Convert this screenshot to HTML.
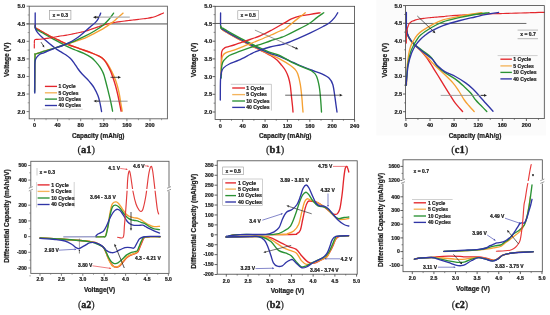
<!DOCTYPE html>
<html><head><meta charset="utf-8"><style>
html,body{margin:0;padding:0;background:#fff;}
body{width:550px;height:315px;overflow:hidden;font-family:"Liberation Sans",sans-serif;}
svg{display:block;will-change:transform;}
text{stroke-linejoin:round;}
</style></head><body>
<svg width="550" height="315" viewBox="0 0 550 315">
<rect width="550" height="315" fill="#fff"/>
<rect x="376.3" y="0" width="169.5" height="135.5" fill="#fbfbfb"/>
<line x1="26.5" y1="23.87" x2="167.4" y2="23.87" stroke="#9a9a9a" stroke-width="1.7"/>
<path d="M35.3 25 C35.37 25.48 35 27.03 35.7 27.9 C36.4 28.77 37.28 28.93 39.5 30.2 C41.72 31.47 45.82 33.83 49 35.5 C52.18 37.17 55.42 38.7 58.6 40.2 C61.78 41.7 64.53 43.07 68.1 44.5 C71.67 45.93 76.12 47.4 80 48.8 C83.88 50.2 88.07 51.58 91.4 52.9 C94.73 54.22 97.9 55.55 100 56.7 C102.1 57.85 102.67 58.48 104 59.8 C105.33 61.12 106.7 62.63 108 64.6 C109.3 66.57 110.58 69.12 111.8 71.6 C113.02 74.08 114.37 77.1 115.3 79.5 C116.23 81.9 116.75 83.67 117.4 86 C118.05 88.33 118.63 90.67 119.2 93.5 C119.77 96.33 120.3 100.05 120.8 103 C121.3 105.95 121.97 109.83 122.2 111.2" fill="none" stroke="#f5a133" stroke-width="1.35" stroke-linejoin="round" stroke-linecap="round" opacity="1"/>
<path d="M35.3 25 C35.37 25.48 35 27.03 35.7 27.9 C36.4 28.77 37.28 28.93 39.5 30.2 C41.72 31.47 45.82 33.83 49 35.5 C52.18 37.17 55.42 38.7 58.6 40.2 C61.78 41.7 64.53 43.07 68.1 44.5 C71.67 45.93 76.12 47.4 80 48.8 C83.88 50.2 88.07 51.58 91.4 52.9 C94.73 54.22 97.9 55.55 100 56.7 C102.1 57.85 102.82 58.53 104 59.8 C105.18 61.07 105.98 62.37 107.1 64.3 C108.22 66.23 109.62 68.87 110.7 71.4 C111.78 73.93 112.78 77.07 113.6 79.5 C114.42 81.93 114.95 83.67 115.6 86 C116.25 88.33 116.85 90.67 117.5 93.5 C118.15 96.33 118.9 100.05 119.5 103 C120.1 105.95 120.83 109.83 121.1 111.2" fill="none" stroke="#e3262c" stroke-width="1.35" stroke-linejoin="round" stroke-linecap="round" opacity="1"/>
<path d="M35.3 25.5 C35.37 26.05 34.2 27.38 35.7 28.8 C37.2 30.22 41.28 32.25 44.3 34 C47.32 35.75 49.83 37.15 53.8 39.3 C57.77 41.45 64.53 45.12 68.1 46.9 C71.67 48.68 72.58 48.93 75.2 50 C77.82 51.07 81.1 52.03 83.8 53.3 C86.5 54.57 89.33 56.08 91.4 57.6 C93.47 59.12 94.77 60.82 96.2 62.4 C97.63 63.98 98.95 65.58 100 67.1 C101.05 68.62 101.82 70.1 102.5 71.5 C103.18 72.9 103.43 73.33 104.1 75.5 C104.77 77.67 105.65 81.2 106.5 84.5 C107.35 87.8 108.45 92.22 109.2 95.3 C109.95 98.38 110.43 100.35 111 103 C111.57 105.65 112.33 109.83 112.6 111.2" fill="none" stroke="#2a9234" stroke-width="1.35" stroke-linejoin="round" stroke-linecap="round" opacity="1"/>
<path d="M35.2 13 C35.2 14.92 35.17 21.92 35.2 24.5 C35.23 27.08 35 27.15 35.4 28.5 C35.8 29.85 36.12 30.8 37.6 32.6 C39.08 34.4 41.43 36.75 44.3 39.3 C47.17 41.85 52.18 45.88 54.8 47.9 C57.42 49.92 58.18 50.25 60 51.4 C61.82 52.55 63.95 53.6 65.7 54.8 C67.45 56 69.07 57.18 70.5 58.6 C71.93 60.02 73.03 61.57 74.3 63.3 C75.57 65.03 76.83 67.25 78.1 69 C79.37 70.75 80.32 72.05 81.9 73.8 C83.48 75.55 86.08 77.88 87.6 79.5 C89.12 81.12 89.93 82.13 91 83.5 C92.07 84.87 92.87 85.73 94 87.7 C95.13 89.67 96.85 92.97 97.8 95.3 C98.75 97.63 99.07 99 99.7 101.7 C100.33 104.4 101.28 109.87 101.6 111.5" fill="none" stroke="#3035a6" stroke-width="1.35" stroke-linejoin="round" stroke-linecap="round" opacity="1"/>
<path d="M34.3 47.9 C34.32 46.75 34.32 42.35 34.4 41 C34.48 39.65 34.53 40.07 34.8 39.8 C35.07 39.53 35.22 39.48 36 39.4 C36.78 39.32 37.33 39.52 39.5 39.3 C41.67 39.08 45.82 38.58 49 38.1 C52.18 37.62 55.1 37 58.6 36.4 C62.1 35.8 65.6 35.37 70 34.5 C74.4 33.63 80.92 32.27 85 31.2 C89.08 30.13 91.33 29.15 94.5 28.1 C97.67 27.05 100.82 25.82 104 24.9 C107.18 23.98 110.1 23.25 113.6 22.6 C117.1 21.95 121.77 21.43 125 21 C128.23 20.57 129.67 20.4 133 20 C136.33 19.6 141.82 19.03 145 18.6 C148.18 18.17 149.97 17.92 152.1 17.4 C154.23 16.88 155.9 16.25 157.8 15.5 C159.7 14.75 162.55 13.33 163.5 12.9" fill="none" stroke="#e3262c" stroke-width="1.15" stroke-linejoin="round" stroke-linecap="round" stroke-dasharray="4 0.6" opacity="1"/>
<path d="M34.7 90 C34.73 87.5 34.83 80.7 34.9 75 C34.97 69.3 34.95 59.3 35.1 55.8 C35.25 52.3 34.27 54.77 35.8 54 C37.33 53.23 41.3 52.15 44.3 51.2 C47.3 50.25 49.83 49.53 53.8 48.3 C57.77 47.07 64.57 44.93 68.1 43.8 C71.63 42.67 72.18 42.45 75 41.5 C77.82 40.55 81.75 39.47 85 38.1 C88.25 36.73 91.33 34.97 94.5 33.3 C97.67 31.63 101.13 29.83 104 28.1 C106.87 26.37 109.47 24.57 111.7 22.9 C113.93 21.23 115.5 19.73 117.4 18.1 C119.3 16.47 122.15 13.93 123.1 13.1" fill="none" stroke="#f5a133" stroke-width="1.35" stroke-linejoin="round" stroke-linecap="round" opacity="1"/>
<path d="M34.6 92.1 C34.63 89.25 34.73 81.05 34.8 75 C34.87 68.95 34.85 59.3 35 55.8 C35.15 52.3 34.15 54.77 35.7 54 C37.25 53.23 41.28 52.15 44.3 51.2 C47.32 50.25 49.83 49.58 53.8 48.3 C57.77 47.02 64.57 44.75 68.1 43.5 C71.63 42.25 72.18 42.02 75 40.8 C77.82 39.58 81.75 37.83 85 36.2 C88.25 34.57 91.48 32.83 94.5 31 C97.52 29.17 100.72 27.12 103.1 25.2 C105.48 23.28 107.05 21.52 108.8 19.5 C110.55 17.48 112.8 14.17 113.6 13.1" fill="none" stroke="#2a9234" stroke-width="1.35" stroke-linejoin="round" stroke-linecap="round" opacity="1"/>
<path d="M34.8 93 C34.8 89.17 34.78 75 34.8 70 C34.82 65 34.78 64.75 34.9 63 C35.02 61.25 35.2 60.43 35.5 59.5 C35.8 58.57 36.03 58.23 36.7 57.4 C37.37 56.57 38.23 55.3 39.5 54.5 C40.77 53.7 41.92 53.58 44.3 52.6 C46.68 51.62 50.95 49.7 53.8 48.6 C56.65 47.5 58.93 46.95 61.4 46 C63.87 45.05 66.33 44.02 68.6 42.9 C70.87 41.78 73.1 40.5 75 39.3 C76.9 38.1 78.33 37 80 35.7 C81.67 34.4 83.57 32.75 85 31.5 C86.43 30.25 87.65 29.03 88.6 28.2 C89.55 27.37 89.55 27.47 90.7 26.5 C91.85 25.53 94.23 23.72 95.5 22.4 C96.77 21.08 97.43 20.15 98.3 18.6 C99.17 17.05 100.3 14.02 100.7 13.1" fill="none" stroke="#3035a6" stroke-width="1.35" stroke-linejoin="round" stroke-linecap="round" opacity="1"/>
<rect x="29.2" y="6.2" width="138.2" height="112.6" fill="none" stroke="#5e5e5e" stroke-width="0.9"/>
<line x1="26.6" y1="6.2" x2="29.2" y2="6.2" stroke="#666" stroke-width="0.85"/>
<text x="25.2" y="8.22" font-family="Liberation Sans" font-size="5.6" font-weight="bold" text-anchor="end" fill="#1c1c1c" stroke="#1c1c1c" stroke-width="0.22">5.0</text>
<line x1="26.6" y1="23.77" x2="29.2" y2="23.77" stroke="#666" stroke-width="0.85"/>
<text x="25.2" y="25.78" font-family="Liberation Sans" font-size="5.6" font-weight="bold" text-anchor="end" fill="#1c1c1c" stroke="#1c1c1c" stroke-width="0.22">4.5</text>
<line x1="26.6" y1="41.33" x2="29.2" y2="41.33" stroke="#666" stroke-width="0.85"/>
<text x="25.2" y="43.35" font-family="Liberation Sans" font-size="5.6" font-weight="bold" text-anchor="end" fill="#1c1c1c" stroke="#1c1c1c" stroke-width="0.22">4.0</text>
<line x1="26.6" y1="58.9" x2="29.2" y2="58.9" stroke="#666" stroke-width="0.85"/>
<text x="25.2" y="60.91" font-family="Liberation Sans" font-size="5.6" font-weight="bold" text-anchor="end" fill="#1c1c1c" stroke="#1c1c1c" stroke-width="0.22">3.5</text>
<line x1="26.6" y1="76.46" x2="29.2" y2="76.46" stroke="#666" stroke-width="0.85"/>
<text x="25.2" y="78.48" font-family="Liberation Sans" font-size="5.6" font-weight="bold" text-anchor="end" fill="#1c1c1c" stroke="#1c1c1c" stroke-width="0.22">3.0</text>
<line x1="26.6" y1="94.03" x2="29.2" y2="94.03" stroke="#666" stroke-width="0.85"/>
<text x="25.2" y="96.04" font-family="Liberation Sans" font-size="5.6" font-weight="bold" text-anchor="end" fill="#1c1c1c" stroke="#1c1c1c" stroke-width="0.22">2.5</text>
<line x1="26.6" y1="111.59" x2="29.2" y2="111.59" stroke="#666" stroke-width="0.85"/>
<text x="25.2" y="113.61" font-family="Liberation Sans" font-size="5.6" font-weight="bold" text-anchor="end" fill="#1c1c1c" stroke="#1c1c1c" stroke-width="0.22">2.0</text>
<line x1="27.7" y1="14.98" x2="29.2" y2="14.98" stroke="#666" stroke-width="0.6"/>
<line x1="27.7" y1="32.55" x2="29.2" y2="32.55" stroke="#666" stroke-width="0.6"/>
<line x1="27.7" y1="50.11" x2="29.2" y2="50.11" stroke="#666" stroke-width="0.6"/>
<line x1="27.7" y1="67.68" x2="29.2" y2="67.68" stroke="#666" stroke-width="0.6"/>
<line x1="27.7" y1="85.24" x2="29.2" y2="85.24" stroke="#666" stroke-width="0.6"/>
<line x1="27.7" y1="102.81" x2="29.2" y2="102.81" stroke="#666" stroke-width="0.6"/>
<line x1="34.5" y1="118.8" x2="34.5" y2="121.2" stroke="#666" stroke-width="0.85"/>
<text x="34.5" y="127" font-family="Liberation Sans" font-size="5.6" font-weight="bold" text-anchor="middle" fill="#1c1c1c" stroke="#1c1c1c" stroke-width="0.22">0</text>
<line x1="57.6" y1="118.8" x2="57.6" y2="121.2" stroke="#666" stroke-width="0.85"/>
<text x="57.6" y="127" font-family="Liberation Sans" font-size="5.6" font-weight="bold" text-anchor="middle" fill="#1c1c1c" stroke="#1c1c1c" stroke-width="0.22">40</text>
<line x1="80.7" y1="118.8" x2="80.7" y2="121.2" stroke="#666" stroke-width="0.85"/>
<text x="80.7" y="127" font-family="Liberation Sans" font-size="5.6" font-weight="bold" text-anchor="middle" fill="#1c1c1c" stroke="#1c1c1c" stroke-width="0.22">80</text>
<line x1="103.8" y1="118.8" x2="103.8" y2="121.2" stroke="#666" stroke-width="0.85"/>
<text x="103.8" y="127" font-family="Liberation Sans" font-size="5.6" font-weight="bold" text-anchor="middle" fill="#1c1c1c" stroke="#1c1c1c" stroke-width="0.22">120</text>
<line x1="126.9" y1="118.8" x2="126.9" y2="121.2" stroke="#666" stroke-width="0.85"/>
<text x="126.9" y="127" font-family="Liberation Sans" font-size="5.6" font-weight="bold" text-anchor="middle" fill="#1c1c1c" stroke="#1c1c1c" stroke-width="0.22">160</text>
<line x1="150" y1="118.8" x2="150" y2="121.2" stroke="#666" stroke-width="0.85"/>
<text x="150" y="127" font-family="Liberation Sans" font-size="5.6" font-weight="bold" text-anchor="middle" fill="#1c1c1c" stroke="#1c1c1c" stroke-width="0.22">200</text>
<line x1="46.05" y1="118.8" x2="46.05" y2="120.2" stroke="#666" stroke-width="0.6"/>
<line x1="69.15" y1="118.8" x2="69.15" y2="120.2" stroke="#666" stroke-width="0.6"/>
<line x1="92.25" y1="118.8" x2="92.25" y2="120.2" stroke="#666" stroke-width="0.6"/>
<line x1="115.35" y1="118.8" x2="115.35" y2="120.2" stroke="#666" stroke-width="0.6"/>
<line x1="138.45" y1="118.8" x2="138.45" y2="120.2" stroke="#666" stroke-width="0.6"/>
<line x1="161.55" y1="118.8" x2="161.55" y2="120.2" stroke="#666" stroke-width="0.6"/>
<text x="0" y="0" transform="translate(6.7 59.7) rotate(-90)" font-family="Liberation Sans" font-size="6.7" font-weight="bold" text-anchor="middle" dominant-baseline="central" fill="#1c1c1c" stroke="#1c1c1c" stroke-width="0.22">Voltage (V)</text>
<text x="98.2" y="137.9" font-family="Liberation Sans" font-size="6.4" font-weight="bold" text-anchor="middle" fill="#1c1c1c" stroke="#1c1c1c" stroke-width="0.22">Capacity (mAh/g)</text>
<text x="86.3" y="152.8" font-family="Liberation Serif" font-size="10.5" text-anchor="middle" fill="#1e1e1e"><tspan font-weight="normal" stroke="#1e1e1e" stroke-width="0.2">(</tspan><tspan font-weight="bold" stroke="#1e1e1e" stroke-width="0.42">a1</tspan><tspan font-weight="normal" stroke="#1e1e1e" stroke-width="0.2">)</tspan></text>
<rect x="49.5" y="10.6" width="21.4" height="8.8" fill="#fff" stroke="#a0a0a0" stroke-width="0.7"/>
<text x="60.3" y="17.1" font-family="Liberation Sans" font-size="5.0" font-weight="bold" text-anchor="middle" fill="#1c1c1c" stroke="#1c1c1c" stroke-width="0.22">x = 0.3</text>
<line x1="44.9" y1="86.4" x2="57" y2="86.4" stroke="#e3262c" stroke-width="1.35"/>
<text x="58.5" y="88.16" font-family="Liberation Sans" font-size="4.9" font-weight="bold" text-anchor="start" fill="#1c1c1c" stroke="#1c1c1c" stroke-width="0.22">1 Cycle</text>
<line x1="44.9" y1="92.8" x2="57" y2="92.8" stroke="#f4b45c" stroke-width="1.35"/>
<text x="58.5" y="94.56" font-family="Liberation Sans" font-size="4.9" font-weight="bold" text-anchor="start" fill="#1c1c1c" stroke="#1c1c1c" stroke-width="0.22">5 Cycles</text>
<line x1="44.9" y1="99.1" x2="57" y2="99.1" stroke="#2a9234" stroke-width="1.35"/>
<text x="58.5" y="100.86" font-family="Liberation Sans" font-size="4.9" font-weight="bold" text-anchor="start" fill="#1c1c1c" stroke="#1c1c1c" stroke-width="0.22">10 Cycles</text>
<line x1="44.9" y1="105.5" x2="57" y2="105.5" stroke="#3035a6" stroke-width="1.35"/>
<text x="58.5" y="107.26" font-family="Liberation Sans" font-size="4.9" font-weight="bold" text-anchor="start" fill="#1c1c1c" stroke="#1c1c1c" stroke-width="0.22">40 Cycles</text>
<line x1="42.4" y1="109.2" x2="82.7" y2="109.2" stroke="#bdbdbd" stroke-width="0.6"/>
<line x1="96" y1="17.2" x2="129.8" y2="17.2" stroke="#b0b0b0" stroke-width="1.3"/>
<line x1="99" y1="17.2" x2="96.2" y2="17.2" stroke="#222" stroke-width="1.0"/>
<polygon points="93,17.2 96.2,15.76 96.2,18.64" fill="#222"/>
<line x1="41" y1="42.1" x2="43.03" y2="45.36" stroke="#222" stroke-width="0.7"/>
<polygon points="44.3,47.4 42.11,45.93 43.95,44.79" fill="#222"/>
<line x1="110.5" y1="77.3" x2="118" y2="77.3" stroke="#222" stroke-width="0.8"/>
<polygon points="121,77.3 118,78.65 118,75.95" fill="#222"/>
<line x1="97" y1="101.2" x2="127.6" y2="101.2" stroke="#6a6a6a" stroke-width="0.7"/>
<line x1="99.5" y1="101.1" x2="96.5" y2="101.1" stroke="#222" stroke-width="0.8"/>
<polygon points="93.5,101.1 96.5,99.75 96.5,102.45" fill="#222"/>
<line x1="215.1" y1="23.45" x2="354.6" y2="23.45" stroke="#2e2e2e" stroke-width="0.8"/>
<path d="M220.6 26 C220.75 26.47 221.02 28.07 221.5 28.8 C221.98 29.53 221.75 29.3 223.5 30.4 C225.25 31.5 228.98 33.68 232 35.4 C235.02 37.12 238.43 39 241.6 40.7 C244.77 42.4 247.83 44 251 45.6 C254.17 47.2 257.33 48.65 260.6 50.3 C263.87 51.95 267.87 53.88 270.6 55.5 C273.33 57.12 275.27 58.5 277 60 C278.73 61.5 279.58 62.75 281 64.5 C282.42 66.25 284.25 68.33 285.5 70.5 C286.75 72.67 287.7 75 288.5 77.5 C289.3 80 289.8 82.27 290.3 85.5 C290.8 88.73 291.13 93.48 291.5 96.9 C291.87 100.32 292.25 103.48 292.5 106 C292.75 108.52 292.92 111 293 112" fill="none" stroke="#e3262c" stroke-width="1.35" stroke-linejoin="round" stroke-linecap="round" opacity="1"/>
<path d="M220.6 26 C220.75 26.47 221.02 28.07 221.5 28.8 C221.98 29.53 221.75 29.3 223.5 30.4 C225.25 31.5 228.98 33.68 232 35.4 C235.02 37.12 238.43 39 241.6 40.7 C244.77 42.4 247.83 44.03 251 45.6 C254.17 47.17 257.43 48.62 260.6 50.1 C263.77 51.58 266.77 52.98 270 54.5 C273.23 56.02 276.58 57.37 280 59.2 C283.42 61.03 288 63.82 290.5 65.5 C293 67.18 293.78 67.88 295 69.3 C296.22 70.72 296.92 71.5 297.8 74 C298.68 76.5 299.63 80.48 300.3 84.3 C300.97 88.12 301.43 93.28 301.8 96.9 C302.17 100.52 302.3 103.48 302.5 106 C302.7 108.52 302.92 111 303 112" fill="none" stroke="#f5a133" stroke-width="1.35" stroke-linejoin="round" stroke-linecap="round" opacity="1"/>
<path d="M220.6 13 C220.6 15.17 220.45 23.42 220.6 26 C220.75 28.58 221.02 27.87 221.5 28.5 C221.98 29.13 221.75 28.75 223.5 29.8 C225.25 30.85 228.98 33.1 232 34.8 C235.02 36.5 238.43 38.32 241.6 40 C244.77 41.68 247.83 43.33 251 44.9 C254.17 46.47 257.43 47.98 260.6 49.4 C263.77 50.82 266.77 52.2 270 53.4 C273.23 54.6 276.67 55.33 280 56.6 C283.33 57.87 286.67 59.52 290 61 C293.33 62.48 296.43 64 300 65.5 C303.57 67 307.75 68.6 311.4 70 C315.05 71.4 318.93 72.53 321.9 73.9 C324.87 75.27 327.38 76.43 329.2 78.2 C331.02 79.97 331.85 81.38 332.8 84.5 C333.75 87.62 334.37 93.48 334.9 96.9 C335.43 100.32 335.65 102.48 336 105 C336.35 107.52 336.83 110.83 337 112" fill="none" stroke="#3035a6" stroke-width="1.35" stroke-linejoin="round" stroke-linecap="round" opacity="1"/>
<path d="M220.6 26 C220.75 26.42 221.17 28.13 221.5 28.5 C221.83 28.87 220.85 27.35 222.6 28.2 C224.35 29.05 228.83 31.83 232 33.6 C235.17 35.37 238.43 37.12 241.6 38.8 C244.77 40.48 247.83 42.13 251 43.7 C254.17 45.27 257.43 46.77 260.6 48.2 C263.77 49.63 266.77 51.07 270 52.3 C273.23 53.53 276.67 54.1 280 55.6 C283.33 57.1 286.5 59.5 290 61.3 C293.5 63.1 297.43 64.82 301 66.4 C304.57 67.98 308.83 69.2 311.4 70.8 C313.97 72.4 315.1 73.4 316.4 76 C317.7 78.6 318.5 82.57 319.2 86.4 C319.9 90.23 320.22 94.73 320.6 99 C320.98 103.27 321.35 109.83 321.5 112" fill="none" stroke="#2a9234" stroke-width="1.35" stroke-linejoin="round" stroke-linecap="round" opacity="1"/>
<path d="M221.4 75 C221.4 72.17 221.37 61.75 221.4 58 C221.43 54.25 221.42 53.83 221.6 52.5 C221.78 51.17 222.17 50.62 222.5 50 C222.83 49.38 222.97 49.27 223.6 48.8 C224.23 48.33 224.57 47.83 226.3 47.2 C228.03 46.57 231.45 45.82 234 45 C236.55 44.18 238.93 43.22 241.6 42.3 C244.27 41.38 246.83 40.62 250 39.5 C253.17 38.38 256.95 37.18 260.6 35.6 C264.25 34.02 268.83 31.6 271.9 30 C274.97 28.4 276.82 27.22 279 26 C281.18 24.78 282.93 23.88 285 22.7 C287.07 21.52 288.65 20.07 291.4 18.9 C294.15 17.73 298.33 16.45 301.5 15.7 C304.67 14.95 307.32 14.88 310.4 14.4 C313.48 13.92 318.4 13.07 320 12.8" fill="none" stroke="#e3262c" stroke-width="1.35" stroke-linejoin="round" stroke-linecap="round" opacity="1"/>
<path d="M221.2 75 C221.23 73.17 221.27 66.83 221.4 64 C221.53 61.17 221.73 59.45 222 58 C222.27 56.55 222.58 56.03 223 55.3 C223.42 54.57 223.67 54.18 224.5 53.6 C225.33 53.02 226.42 52.37 228 51.8 C229.58 51.23 230.93 51.3 234 50.2 C237.07 49.1 243.73 46.27 246.4 45.2 C249.07 44.13 247.63 44.75 250 43.8 C252.37 42.85 257.1 40.97 260.6 39.5 C264.1 38.03 267.77 36.42 271 35 C274.23 33.58 277.67 32 280 31 C282.33 30 282.9 30.38 285 29 C287.1 27.62 290.27 24.6 292.6 22.7 C294.93 20.8 296.88 19.25 299 17.6 C301.12 15.95 304.25 13.6 305.3 12.8" fill="none" stroke="#f5a133" stroke-width="1.35" stroke-linejoin="round" stroke-linecap="round" opacity="1"/>
<path d="M221.2 78 C221.25 76.33 221.28 70.5 221.5 68 C221.72 65.5 222.08 64.3 222.5 63 C222.92 61.7 222.87 61.45 224 60.2 C225.13 58.95 226.83 56.92 229.3 55.5 C231.77 54.08 235.35 53.02 238.8 51.7 C242.25 50.38 246.37 48.83 250 47.6 C253.63 46.37 257.27 45.4 260.6 44.3 C263.93 43.2 266.77 42.08 270 41 C273.23 39.92 277.5 38.63 280 37.8 C282.5 36.97 282.05 37.35 285 36 C287.95 34.65 293.47 31.92 297.7 29.7 C301.93 27.48 307.22 24.72 310.4 22.7 C313.58 20.68 314.57 19.25 316.8 17.6 C319.03 15.95 322.63 13.6 323.8 12.8" fill="none" stroke="#2a9234" stroke-width="1.35" stroke-linejoin="round" stroke-linecap="round" opacity="1"/>
<path d="M220.3 100 C220.33 96.67 220.3 84.67 220.5 80 C220.7 75.33 220.98 74.02 221.5 72 C222.02 69.98 222.3 69.23 223.6 67.9 C224.9 66.57 226.77 65.28 229.3 64 C231.83 62.72 235.35 61.78 238.8 60.2 C242.25 58.62 247.3 55.87 250 54.5 C252.7 53.13 253.23 52.78 255 52 C256.77 51.22 258.1 50.63 260.6 49.8 C263.1 48.97 266.77 47.8 270 47 C273.23 46.2 277.5 45.55 280 45 C282.5 44.45 282.05 44.77 285 43.7 C287.95 42.63 293.47 40.4 297.7 38.6 C301.93 36.8 306.17 34.92 310.4 32.9 C314.63 30.88 319.92 28.2 323.1 26.5 C326.28 24.8 327.58 24.18 329.5 22.7 C331.42 21.22 333.23 19.25 334.6 17.6 C335.97 15.95 337.18 13.6 337.7 12.8" fill="none" stroke="#3035a6" stroke-width="1.35" stroke-linejoin="round" stroke-linecap="round" opacity="1"/>
<rect x="215.1" y="6.3" width="139.5" height="113.1" fill="none" stroke="#444" stroke-width="0.8"/>
<line x1="212.5" y1="6.3" x2="215.1" y2="6.3" stroke="#444" stroke-width="0.85"/>
<text x="212" y="8.32" font-family="Liberation Sans" font-size="5.6" font-weight="bold" text-anchor="end" fill="#1c1c1c" stroke="#1c1c1c" stroke-width="0.22">5.0</text>
<line x1="212.5" y1="23.5" x2="215.1" y2="23.5" stroke="#444" stroke-width="0.85"/>
<text x="212" y="25.52" font-family="Liberation Sans" font-size="5.6" font-weight="bold" text-anchor="end" fill="#1c1c1c" stroke="#1c1c1c" stroke-width="0.22">4.5</text>
<line x1="212.5" y1="41.2" x2="215.1" y2="41.2" stroke="#444" stroke-width="0.85"/>
<text x="212" y="43.22" font-family="Liberation Sans" font-size="5.6" font-weight="bold" text-anchor="end" fill="#1c1c1c" stroke="#1c1c1c" stroke-width="0.22">4.0</text>
<line x1="212.5" y1="58.9" x2="215.1" y2="58.9" stroke="#444" stroke-width="0.85"/>
<text x="212" y="60.92" font-family="Liberation Sans" font-size="5.6" font-weight="bold" text-anchor="end" fill="#1c1c1c" stroke="#1c1c1c" stroke-width="0.22">3.5</text>
<line x1="212.5" y1="76.6" x2="215.1" y2="76.6" stroke="#444" stroke-width="0.85"/>
<text x="212" y="78.62" font-family="Liberation Sans" font-size="5.6" font-weight="bold" text-anchor="end" fill="#1c1c1c" stroke="#1c1c1c" stroke-width="0.22">3.0</text>
<line x1="212.5" y1="94.3" x2="215.1" y2="94.3" stroke="#444" stroke-width="0.85"/>
<text x="212" y="96.32" font-family="Liberation Sans" font-size="5.6" font-weight="bold" text-anchor="end" fill="#1c1c1c" stroke="#1c1c1c" stroke-width="0.22">2.5</text>
<line x1="212.5" y1="112" x2="215.1" y2="112" stroke="#444" stroke-width="0.85"/>
<text x="212" y="114.02" font-family="Liberation Sans" font-size="5.6" font-weight="bold" text-anchor="end" fill="#1c1c1c" stroke="#1c1c1c" stroke-width="0.22">2.0</text>
<line x1="213.6" y1="14.65" x2="215.1" y2="14.65" stroke="#444" stroke-width="0.6"/>
<line x1="213.6" y1="32.35" x2="215.1" y2="32.35" stroke="#444" stroke-width="0.6"/>
<line x1="213.6" y1="50.05" x2="215.1" y2="50.05" stroke="#444" stroke-width="0.6"/>
<line x1="213.6" y1="67.75" x2="215.1" y2="67.75" stroke="#444" stroke-width="0.6"/>
<line x1="213.6" y1="85.45" x2="215.1" y2="85.45" stroke="#444" stroke-width="0.6"/>
<line x1="213.6" y1="103.15" x2="215.1" y2="103.15" stroke="#444" stroke-width="0.6"/>
<line x1="220.3" y1="119.4" x2="220.3" y2="121.8" stroke="#444" stroke-width="0.85"/>
<text x="220.3" y="127.5" font-family="Liberation Sans" font-size="5.6" font-weight="bold" text-anchor="middle" fill="#1c1c1c" stroke="#1c1c1c" stroke-width="0.22">0</text>
<line x1="242.68" y1="119.4" x2="242.68" y2="121.8" stroke="#444" stroke-width="0.85"/>
<text x="242.68" y="127.5" font-family="Liberation Sans" font-size="5.6" font-weight="bold" text-anchor="middle" fill="#1c1c1c" stroke="#1c1c1c" stroke-width="0.22">40</text>
<line x1="265.07" y1="119.4" x2="265.07" y2="121.8" stroke="#444" stroke-width="0.85"/>
<text x="265.07" y="127.5" font-family="Liberation Sans" font-size="5.6" font-weight="bold" text-anchor="middle" fill="#1c1c1c" stroke="#1c1c1c" stroke-width="0.22">80</text>
<line x1="287.45" y1="119.4" x2="287.45" y2="121.8" stroke="#444" stroke-width="0.85"/>
<text x="287.45" y="127.5" font-family="Liberation Sans" font-size="5.6" font-weight="bold" text-anchor="middle" fill="#1c1c1c" stroke="#1c1c1c" stroke-width="0.22">120</text>
<line x1="309.84" y1="119.4" x2="309.84" y2="121.8" stroke="#444" stroke-width="0.85"/>
<text x="309.84" y="127.5" font-family="Liberation Sans" font-size="5.6" font-weight="bold" text-anchor="middle" fill="#1c1c1c" stroke="#1c1c1c" stroke-width="0.22">160</text>
<line x1="332.22" y1="119.4" x2="332.22" y2="121.8" stroke="#444" stroke-width="0.85"/>
<text x="332.22" y="127.5" font-family="Liberation Sans" font-size="5.6" font-weight="bold" text-anchor="middle" fill="#1c1c1c" stroke="#1c1c1c" stroke-width="0.22">200</text>
<line x1="354.6" y1="119.4" x2="354.6" y2="121.8" stroke="#444" stroke-width="0.85"/>
<text x="354.6" y="127.5" font-family="Liberation Sans" font-size="5.6" font-weight="bold" text-anchor="middle" fill="#1c1c1c" stroke="#1c1c1c" stroke-width="0.22">240</text>
<line x1="231.49" y1="119.4" x2="231.49" y2="120.8" stroke="#444" stroke-width="0.6"/>
<line x1="253.88" y1="119.4" x2="253.88" y2="120.8" stroke="#444" stroke-width="0.6"/>
<line x1="276.26" y1="119.4" x2="276.26" y2="120.8" stroke="#444" stroke-width="0.6"/>
<line x1="298.64" y1="119.4" x2="298.64" y2="120.8" stroke="#444" stroke-width="0.6"/>
<line x1="321.03" y1="119.4" x2="321.03" y2="120.8" stroke="#444" stroke-width="0.6"/>
<line x1="343.41" y1="119.4" x2="343.41" y2="120.8" stroke="#444" stroke-width="0.6"/>
<text x="0" y="0" transform="translate(193.7 60) rotate(-90)" font-family="Liberation Sans" font-size="6.7" font-weight="bold" text-anchor="middle" dominant-baseline="central" fill="#1c1c1c" stroke="#1c1c1c" stroke-width="0.22">Voltage (V)</text>
<text x="285.2" y="138.3" font-family="Liberation Sans" font-size="6.4" font-weight="bold" text-anchor="middle" fill="#1c1c1c" stroke="#1c1c1c" stroke-width="0.22">Capacity (mAh/g)</text>
<text x="275.1" y="152.7" font-family="Liberation Serif" font-size="10.5" text-anchor="middle" fill="#1e1e1e"><tspan font-weight="normal" stroke="#1e1e1e" stroke-width="0.2">(</tspan><tspan font-weight="bold" stroke="#1e1e1e" stroke-width="0.42">b1</tspan><tspan font-weight="normal" stroke="#1e1e1e" stroke-width="0.2">)</tspan></text>
<rect x="237.8" y="10.7" width="20.9" height="8.6" fill="#fff" stroke="#9a9a9a" stroke-width="0.6"/>
<text x="248.2" y="17.1" font-family="Liberation Sans" font-size="5.0" font-weight="bold" text-anchor="middle" fill="#1c1c1c" stroke="#1c1c1c" stroke-width="0.22">x = 0.5</text>
<line x1="230.8" y1="84.3" x2="271.4" y2="84.3" stroke="#a8a8a8" stroke-width="0.6"/>
<line x1="271.4" y1="84.3" x2="271.4" y2="110.6" stroke="#a8a8a8" stroke-width="0.6"/>
<line x1="232.2" y1="88" x2="245" y2="88" stroke="#e3262c" stroke-width="1.35"/>
<text x="246.2" y="89.84" font-family="Liberation Sans" font-size="5.1" font-weight="bold" text-anchor="start" fill="#1c1c1c" stroke="#1c1c1c" stroke-width="0.22">1 Cycle</text>
<line x1="232.2" y1="94.6" x2="245" y2="94.6" stroke="#f4b45c" stroke-width="1.35"/>
<text x="246.2" y="96.44" font-family="Liberation Sans" font-size="5.1" font-weight="bold" text-anchor="start" fill="#1c1c1c" stroke="#1c1c1c" stroke-width="0.22">5 Cycles</text>
<line x1="232.2" y1="101" x2="245" y2="101" stroke="#2a9234" stroke-width="1.35"/>
<text x="246.2" y="102.84" font-family="Liberation Sans" font-size="5.1" font-weight="bold" text-anchor="start" fill="#1c1c1c" stroke="#1c1c1c" stroke-width="0.22">10 Cycles</text>
<line x1="232.2" y1="107.4" x2="245" y2="107.4" stroke="#3035a6" stroke-width="1.35"/>
<text x="246.2" y="109.24" font-family="Liberation Sans" font-size="5.1" font-weight="bold" text-anchor="start" fill="#1c1c1c" stroke="#1c1c1c" stroke-width="0.22">40 Cycles</text>
<line x1="254.9" y1="30.1" x2="296" y2="48.3" stroke="#6a6a6a" stroke-width="0.7"/>
<line x1="292" y1="46.5" x2="295.74" y2="48.16" stroke="#222" stroke-width="0.7"/>
<polygon points="298.3,49.3 295.23,49.31 296.25,47.01" fill="#222"/>
<line x1="285.2" y1="95.2" x2="339.6" y2="95.2" stroke="#222" stroke-width="0.7"/>
<polygon points="342.6,95.2 339.6,96.55 339.6,93.85" fill="#222"/>
<line x1="405.6" y1="23.45" x2="526.4" y2="23.45" stroke="#3a3a3a" stroke-width="0.75"/>
<path d="M406.6 30 C406.83 31 407.33 34.25 408 36 C408.67 37.75 409.53 39.05 410.6 40.5 C411.67 41.95 413.28 43.55 414.4 44.7 C415.52 45.85 416.03 46.17 417.3 47.4 C418.57 48.63 420.42 50.35 422 52.1 C423.58 53.85 425.37 55.98 426.8 57.9 C428.23 59.82 429.33 61.62 430.6 63.6 C431.87 65.58 432.8 67.22 434.4 69.8 C436 72.38 438.27 75.97 440.2 79.1 C442.13 82.23 443.88 85.18 446 88.6 C448.12 92.02 451.35 97.18 452.9 99.6 C454.45 102.02 453.68 101.12 455.3 103.1 C456.92 105.08 461.38 110.1 462.6 111.5" fill="none" stroke="#e3262c" stroke-width="1.35" stroke-linejoin="round" stroke-linecap="round" opacity="1"/>
<path d="M406.6 30 C406.83 31 407.33 34.25 408 36 C408.67 37.75 409.53 39.05 410.6 40.5 C411.67 41.95 412.5 42.83 414.4 44.7 C416.3 46.57 419.62 49.35 422 51.7 C424.38 54.05 426.63 56.58 428.7 58.8 C430.77 61.02 432.07 62.68 434.4 65 C436.73 67.32 439.62 69.72 442.7 72.7 C445.78 75.68 450.27 79.93 452.9 82.9 C455.53 85.87 456.6 87.65 458.5 90.5 C460.4 93.35 462.55 97.45 464.3 100 C466.05 102.55 467.35 103.88 469 105.8 C470.65 107.72 473.33 110.55 474.2 111.5" fill="none" stroke="#f5a133" stroke-width="1.35" stroke-linejoin="round" stroke-linecap="round" opacity="1"/>
<path d="M406.6 30 C406.83 30.9 407.33 33.73 408 35.4 C408.67 37.07 409.53 38.48 410.6 40 C411.67 41.52 412.5 42.8 414.4 44.5 C416.3 46.2 419.13 47.97 422 50.2 C424.87 52.43 429 55.17 431.6 57.9 C434.2 60.63 435.33 64.13 437.6 66.6 C439.87 69.07 442.23 70.62 445.2 72.7 C448.17 74.78 452.22 76.77 455.4 79.1 C458.58 81.43 461.75 84.38 464.3 86.7 C466.85 89.02 468.8 90.78 470.7 93 C472.6 95.22 473.98 97.92 475.7 100 C477.42 102.08 479.15 103.58 481 105.5 C482.85 107.42 485.83 110.5 486.8 111.5" fill="none" stroke="#2a9234" stroke-width="1.35" stroke-linejoin="round" stroke-linecap="round" opacity="1"/>
<path d="M406.4 12.4 C406.4 14.5 406.33 22.07 406.4 25 C406.47 27.93 406.57 28.33 406.8 30 C407.03 31.67 407.17 33.37 407.8 35 C408.43 36.63 409.5 38.22 410.6 39.8 C411.7 41.38 412.5 42.6 414.4 44.5 C416.3 46.4 419.13 48.85 422 51.2 C424.87 53.55 429 56.17 431.6 58.6 C434.2 61.03 435.33 63.6 437.6 65.8 C439.87 68 442.23 70.02 445.2 71.8 C448.17 73.58 452 74.65 455.4 76.5 C458.8 78.35 462.63 80.78 465.6 82.9 C468.57 85.02 470.87 86.98 473.2 89.2 C475.53 91.42 477.47 93.82 479.6 96.2 C481.73 98.58 483.77 100.98 486 103.5 C488.23 106.02 491.83 110 493 111.3" fill="none" stroke="#3035a6" stroke-width="1.35" stroke-linejoin="round" stroke-linecap="round" opacity="1"/>
<path d="M406.3 43.1 C406.32 41.75 406.32 37.02 406.4 35 C406.48 32.98 406.6 32.23 406.8 31 C407 29.77 407.23 28.77 407.6 27.6 C407.97 26.43 408.5 24.9 409 24 C409.5 23.1 409.97 22.7 410.6 22.2 C411.23 21.7 411.73 21.45 412.8 21 C413.87 20.55 415.47 19.9 417 19.5 C418.53 19.1 419.57 18.93 422 18.6 C424.43 18.27 428.1 17.83 431.6 17.5 C435.1 17.17 439.83 16.88 443 16.6 C446.17 16.32 445.27 16.18 450.6 15.8 C455.93 15.42 466.68 14.67 475 14.3 C483.32 13.93 493 13.82 500.5 13.6 C508 13.38 512.7 13.22 520 13 C527.3 12.78 540.25 12.42 544.3 12.3" fill="none" stroke="#e3262c" stroke-width="1.15" stroke-linejoin="round" stroke-linecap="round" stroke-dasharray="4 0.6" opacity="1"/>
<path d="M406.5 85 C406.58 82.83 406.87 75.33 407 72 C407.13 68.67 407.02 68 407.3 65 C407.58 62 408.15 57.1 408.7 54 C409.25 50.9 409.8 48.62 410.6 46.4 C411.4 44.18 412.38 42.6 413.5 40.7 C414.62 38.8 415.88 36.63 417.3 35 C418.72 33.37 419.62 32.55 422 30.9 C424.38 29.25 428.1 26.93 431.6 25.1 C435.1 23.27 438.25 21.38 443 19.9 C447.75 18.42 454.77 17.25 460.1 16.2 C465.43 15.15 471.35 14.2 475 13.6 C478.65 13 480.83 12.77 482 12.6" fill="none" stroke="#f5a133" stroke-width="1.35" stroke-linejoin="round" stroke-linecap="round" opacity="1"/>
<path d="M406.1 85.3 C406.23 83.58 406.62 78.38 406.9 75 C407.18 71.62 407.18 68.82 407.8 65 C408.42 61.18 409.65 55.35 410.6 52.1 C411.55 48.85 412.55 47.4 413.5 45.5 C414.45 43.6 415.12 42.45 416.3 40.7 C417.48 38.95 418.05 37.2 420.6 35 C423.15 32.8 427.87 29.7 431.6 27.5 C435.33 25.3 438.25 23.48 443 21.8 C447.75 20.12 454.77 18.62 460.1 17.4 C465.43 16.18 470.18 15.3 475 14.5 C479.82 13.7 486.67 12.92 489 12.6" fill="none" stroke="#2a9234" stroke-width="1.35" stroke-linejoin="round" stroke-linecap="round" opacity="1"/>
<path d="M406.1 85.3 C406.25 83.58 406.65 78.38 407 75 C407.35 71.62 407.43 68.65 408.2 65 C408.97 61.35 410.4 56.35 411.6 53.1 C412.8 49.85 413.98 47.72 415.4 45.5 C416.82 43.28 418.43 41.55 420.1 39.8 C421.77 38.05 423.48 36.48 425.4 35 C427.32 33.52 428.67 32.47 431.6 30.9 C434.53 29.33 438.25 27.33 443 25.6 C447.75 23.87 454.77 21.93 460.1 20.5 C465.43 19.07 470.82 17.98 475 17 C479.18 16.02 481.27 15.37 485.2 14.6 C489.13 13.83 496.37 12.77 498.6 12.4" fill="none" stroke="#3035a6" stroke-width="1.35" stroke-linejoin="round" stroke-linecap="round" opacity="1"/>
<rect x="405.6" y="5.6" width="138.7" height="113" fill="none" stroke="#444" stroke-width="0.8"/>
<line x1="403" y1="5.6" x2="405.6" y2="5.6" stroke="#444" stroke-width="0.85"/>
<text x="402.2" y="7.62" font-family="Liberation Sans" font-size="5.6" font-weight="bold" text-anchor="end" fill="#1c1c1c" stroke="#1c1c1c" stroke-width="0.22">5.0</text>
<line x1="403" y1="23.28" x2="405.6" y2="23.28" stroke="#444" stroke-width="0.85"/>
<text x="402.2" y="25.3" font-family="Liberation Sans" font-size="5.6" font-weight="bold" text-anchor="end" fill="#1c1c1c" stroke="#1c1c1c" stroke-width="0.22">4.5</text>
<line x1="403" y1="40.97" x2="405.6" y2="40.97" stroke="#444" stroke-width="0.85"/>
<text x="402.2" y="42.99" font-family="Liberation Sans" font-size="5.6" font-weight="bold" text-anchor="end" fill="#1c1c1c" stroke="#1c1c1c" stroke-width="0.22">4.0</text>
<line x1="403" y1="58.65" x2="405.6" y2="58.65" stroke="#444" stroke-width="0.85"/>
<text x="402.2" y="60.67" font-family="Liberation Sans" font-size="5.6" font-weight="bold" text-anchor="end" fill="#1c1c1c" stroke="#1c1c1c" stroke-width="0.22">3.5</text>
<line x1="403" y1="76.34" x2="405.6" y2="76.34" stroke="#444" stroke-width="0.85"/>
<text x="402.2" y="78.36" font-family="Liberation Sans" font-size="5.6" font-weight="bold" text-anchor="end" fill="#1c1c1c" stroke="#1c1c1c" stroke-width="0.22">3.0</text>
<line x1="403" y1="94.02" x2="405.6" y2="94.02" stroke="#444" stroke-width="0.85"/>
<text x="402.2" y="96.04" font-family="Liberation Sans" font-size="5.6" font-weight="bold" text-anchor="end" fill="#1c1c1c" stroke="#1c1c1c" stroke-width="0.22">2.5</text>
<line x1="403" y1="111.71" x2="405.6" y2="111.71" stroke="#444" stroke-width="0.85"/>
<text x="402.2" y="113.73" font-family="Liberation Sans" font-size="5.6" font-weight="bold" text-anchor="end" fill="#1c1c1c" stroke="#1c1c1c" stroke-width="0.22">2.0</text>
<line x1="404.1" y1="14.44" x2="405.6" y2="14.44" stroke="#444" stroke-width="0.6"/>
<line x1="404.1" y1="32.13" x2="405.6" y2="32.13" stroke="#444" stroke-width="0.6"/>
<line x1="404.1" y1="49.81" x2="405.6" y2="49.81" stroke="#444" stroke-width="0.6"/>
<line x1="404.1" y1="67.5" x2="405.6" y2="67.5" stroke="#444" stroke-width="0.6"/>
<line x1="404.1" y1="85.18" x2="405.6" y2="85.18" stroke="#444" stroke-width="0.6"/>
<line x1="404.1" y1="102.87" x2="405.6" y2="102.87" stroke="#444" stroke-width="0.6"/>
<line x1="405.9" y1="118.6" x2="405.9" y2="121" stroke="#444" stroke-width="0.85"/>
<text x="405.9" y="127" font-family="Liberation Sans" font-size="5.6" font-weight="bold" text-anchor="middle" fill="#1c1c1c" stroke="#1c1c1c" stroke-width="0.22">0</text>
<line x1="430" y1="118.6" x2="430" y2="121" stroke="#444" stroke-width="0.85"/>
<text x="430" y="127" font-family="Liberation Sans" font-size="5.6" font-weight="bold" text-anchor="middle" fill="#1c1c1c" stroke="#1c1c1c" stroke-width="0.22">40</text>
<line x1="454.1" y1="118.6" x2="454.1" y2="121" stroke="#444" stroke-width="0.85"/>
<text x="454.1" y="127" font-family="Liberation Sans" font-size="5.6" font-weight="bold" text-anchor="middle" fill="#1c1c1c" stroke="#1c1c1c" stroke-width="0.22">80</text>
<line x1="478.2" y1="118.6" x2="478.2" y2="121" stroke="#444" stroke-width="0.85"/>
<text x="478.2" y="127" font-family="Liberation Sans" font-size="5.6" font-weight="bold" text-anchor="middle" fill="#1c1c1c" stroke="#1c1c1c" stroke-width="0.22">120</text>
<line x1="502.3" y1="118.6" x2="502.3" y2="121" stroke="#444" stroke-width="0.85"/>
<text x="502.3" y="127" font-family="Liberation Sans" font-size="5.6" font-weight="bold" text-anchor="middle" fill="#1c1c1c" stroke="#1c1c1c" stroke-width="0.22">160</text>
<line x1="526.4" y1="118.6" x2="526.4" y2="121" stroke="#444" stroke-width="0.85"/>
<text x="526.4" y="127" font-family="Liberation Sans" font-size="5.6" font-weight="bold" text-anchor="middle" fill="#1c1c1c" stroke="#1c1c1c" stroke-width="0.22">200</text>
<line x1="417.95" y1="118.6" x2="417.95" y2="120" stroke="#444" stroke-width="0.6"/>
<line x1="442.05" y1="118.6" x2="442.05" y2="120" stroke="#444" stroke-width="0.6"/>
<line x1="466.15" y1="118.6" x2="466.15" y2="120" stroke="#444" stroke-width="0.6"/>
<line x1="490.25" y1="118.6" x2="490.25" y2="120" stroke="#444" stroke-width="0.6"/>
<line x1="514.35" y1="118.6" x2="514.35" y2="120" stroke="#444" stroke-width="0.6"/>
<line x1="538.45" y1="118.6" x2="538.45" y2="120" stroke="#444" stroke-width="0.6"/>
<text x="0" y="0" transform="translate(384.2 60.3) rotate(-90)" font-family="Liberation Sans" font-size="6.7" font-weight="bold" text-anchor="middle" dominant-baseline="central" fill="#1c1c1c" stroke="#1c1c1c" stroke-width="0.22">Voltage (V)</text>
<text x="475" y="137.7" font-family="Liberation Sans" font-size="6.4" font-weight="bold" text-anchor="middle" fill="#1c1c1c" stroke="#1c1c1c" stroke-width="0.22">Capacity (mAh/g)</text>
<text x="459.7" y="152.8" font-family="Liberation Serif" font-size="10.5" text-anchor="middle" fill="#1e1e1e"><tspan font-weight="normal" stroke="#1e1e1e" stroke-width="0.2">(</tspan><tspan font-weight="bold" stroke="#1e1e1e" stroke-width="0.42">c1</tspan><tspan font-weight="normal" stroke="#1e1e1e" stroke-width="0.2">)</tspan></text>
<line x1="517.6" y1="30.1" x2="538" y2="30.1" stroke="#8a8a8a" stroke-width="0.6"/>
<line x1="517.6" y1="38.7" x2="538" y2="38.7" stroke="#8a8a8a" stroke-width="0.6"/>
<text x="528" y="36.4" font-family="Liberation Sans" font-size="5.0" font-weight="bold" text-anchor="middle" fill="#1c1c1c" stroke="#1c1c1c" stroke-width="0.22">x = 0.7</text>
<line x1="497.6" y1="55.6" x2="537.6" y2="55.6" stroke="#b0b0b0" stroke-width="0.6"/>
<line x1="500.4" y1="59.2" x2="511.9" y2="59.2" stroke="#e3262c" stroke-width="1.35"/>
<text x="513.3" y="61.02" font-family="Liberation Sans" font-size="5.05" font-weight="bold" text-anchor="start" fill="#1c1c1c" stroke="#1c1c1c" stroke-width="0.22">1 Cycle</text>
<line x1="500.4" y1="65.9" x2="511.9" y2="65.9" stroke="#f4b45c" stroke-width="1.35"/>
<text x="513.3" y="67.72" font-family="Liberation Sans" font-size="5.05" font-weight="bold" text-anchor="start" fill="#1c1c1c" stroke="#1c1c1c" stroke-width="0.22">5 Cycles</text>
<line x1="500.4" y1="72.4" x2="511.9" y2="72.4" stroke="#2a9234" stroke-width="1.35"/>
<text x="513.3" y="74.22" font-family="Liberation Sans" font-size="5.05" font-weight="bold" text-anchor="start" fill="#1c1c1c" stroke="#1c1c1c" stroke-width="0.22">10 Cycles</text>
<line x1="500.4" y1="78.9" x2="511.9" y2="78.9" stroke="#3035a6" stroke-width="1.35"/>
<text x="513.3" y="80.72" font-family="Liberation Sans" font-size="5.05" font-weight="bold" text-anchor="start" fill="#1c1c1c" stroke="#1c1c1c" stroke-width="0.22">40 Cycles</text>
<line x1="417.3" y1="16" x2="433.37" y2="31.27" stroke="#222" stroke-width="0.7"/>
<polygon points="435.4,33.2 432.5,32.18 434.24,30.36" fill="#222"/>
<line x1="440.7" y1="95.4" x2="484" y2="95.4" stroke="#8a8a8a" stroke-width="0.8"/>
<line x1="481" y1="95.4" x2="484" y2="95.4" stroke="#222" stroke-width="0.8"/>
<polygon points="487,95.4 484,96.75 484,94.05" fill="#222"/>
<path d="M40 238 C43.33 238.17 53.33 238.58 60 239 C66.67 239.42 75 240.08 80 240.5 C85 240.92 87.5 241.18 90 241.5 C92.5 241.82 93.5 241.93 95 242.4 C96.5 242.87 97.6 243.48 99 244.3 C100.4 245.12 102.23 245.93 103.4 247.3 C104.57 248.67 105.18 250.7 106 252.5 C106.82 254.3 107.6 256.52 108.3 258.1 C109 259.68 109.6 260.88 110.2 262 C110.8 263.12 111.27 264.03 111.9 264.8 C112.53 265.57 113.3 266.2 114 266.6 C114.7 267 115.4 267.17 116.1 267.2 C116.8 267.23 117.5 267.1 118.2 266.8 C118.9 266.5 119.45 266.23 120.3 265.4 C121.15 264.57 122.28 263.02 123.3 261.8 C124.32 260.58 125.38 259.1 126.4 258.1 C127.42 257.1 128.4 256.4 129.4 255.8 C130.4 255.2 131.47 254.87 132.4 254.5 C133.33 254.13 134.1 254 135 253.6 C135.9 253.2 137.03 253.03 137.8 252.1 C138.57 251.17 139 249.4 139.6 248 C140.2 246.6 140.68 245.33 141.4 243.7 C142.12 242.07 143.13 239.32 143.9 238.2 C144.67 237.08 144.98 237.25 146 237 C147.02 236.75 147.67 236.75 150 236.7 C152.33 236.65 158.33 236.7 160 236.7" fill="none" stroke="#e3262c" stroke-width="1.35" stroke-linejoin="round" stroke-linecap="round" opacity="1"/>
<path d="M40 238 C43.33 238.17 53.33 238.58 60 239 C66.67 239.42 75 240.08 80 240.5 C85 240.92 87.5 241.18 90 241.5 C92.5 241.82 93.5 241.93 95 242.4 C96.5 242.87 97.6 243.48 99 244.3 C100.4 245.12 102.23 245.95 103.4 247.3 C104.57 248.65 105.23 250.62 106 252.4 C106.77 254.18 107.37 256.4 108 258 C108.63 259.6 109.22 260.88 109.8 262 C110.38 263.12 110.88 263.95 111.5 264.7 C112.12 265.45 112.82 266.1 113.5 266.5 C114.18 266.9 114.9 267.07 115.6 267.1 C116.3 267.13 117 267 117.7 266.7 C118.4 266.4 118.95 266.13 119.8 265.3 C120.65 264.47 121.78 262.92 122.8 261.7 C123.82 260.48 124.88 259 125.9 258 C126.92 257 127.9 256.3 128.9 255.7 C129.9 255.1 130.97 254.77 131.9 254.4 C132.83 254.03 133.62 253.9 134.5 253.5 C135.38 253.1 136.45 252.92 137.2 252 C137.95 251.08 138.4 249.38 139 248 C139.6 246.62 140.08 245.33 140.8 243.7 C141.52 242.07 142.52 239.32 143.3 238.2 C144.08 237.08 144.38 237.25 145.5 237 C146.62 236.75 147.58 236.75 150 236.7 C152.42 236.65 158.33 236.7 160 236.7" fill="none" stroke="#f5a133" stroke-width="1.35" stroke-linejoin="round" stroke-linecap="round" opacity="1"/>
<path d="M40 238 C43.33 238.17 53.33 238.58 60 239 C66.67 239.42 75 240.03 80 240.5 C85 240.97 87.5 241.38 90 241.8 C92.5 242.22 93.5 242.5 95 243 C96.5 243.5 97.6 244.08 99 244.8 C100.4 245.52 102.23 246.1 103.4 247.3 C104.57 248.5 105.18 250.4 106 252 C106.82 253.6 107.6 255.53 108.3 256.9 C109 258.27 109.6 259.3 110.2 260.2 C110.8 261.1 111.32 261.77 111.9 262.3 C112.48 262.83 113.1 263.18 113.7 263.4 C114.3 263.62 114.8 263.7 115.5 263.6 C116.2 263.5 117.1 263.22 117.9 262.8 C118.7 262.38 119.4 261.87 120.3 261.1 C121.2 260.33 122.28 259.2 123.3 258.2 C124.32 257.2 125.38 255.92 126.4 255.1 C127.42 254.28 128.4 253.8 129.4 253.3 C130.4 252.8 131.47 252.38 132.4 252.1 C133.33 251.82 134.2 251.8 135 251.6 C135.8 251.4 136.53 251.7 137.2 250.9 C137.87 250.1 138.4 248.22 139 246.8 C139.6 245.38 140.08 243.93 140.8 242.4 C141.52 240.87 142.52 238.52 143.3 237.6 C144.08 236.68 144.38 237.05 145.5 236.9 C146.62 236.75 147.58 236.73 150 236.7 C152.42 236.67 158.33 236.7 160 236.7" fill="none" stroke="#2a9234" stroke-width="1.35" stroke-linejoin="round" stroke-linecap="round" opacity="1"/>
<path d="M40 238.4 C42.5 238.58 50.83 239.07 55 239.5 C59.17 239.93 62.17 240.17 65 241 C67.83 241.83 70.17 243.4 72 244.5 C73.83 245.6 74.88 246.9 76 247.6 C77.12 248.3 77.78 248.73 78.7 248.7 C79.62 248.67 80.52 247.9 81.5 247.4 C82.48 246.9 83.6 246.3 84.6 245.7 C85.6 245.1 86.5 244.32 87.5 243.8 C88.5 243.28 89.35 242.8 90.6 242.6 C91.85 242.4 93.68 242.38 95 242.6 C96.32 242.82 97.3 243.32 98.5 243.9 C99.7 244.48 101.17 245.32 102.2 246.1 C103.23 246.88 103.88 247.8 104.7 248.6 C105.52 249.4 106.3 250.3 107.1 250.9 C107.9 251.5 108.7 251.9 109.5 252.2 C110.3 252.5 111.1 252.67 111.9 252.7 C112.7 252.73 113.5 252.6 114.3 252.4 C115.1 252.2 115.8 251.92 116.7 251.5 C117.6 251.08 118.7 250.4 119.7 249.9 C120.7 249.4 121.82 248.88 122.7 248.5 C123.58 248.12 124.18 247.8 125 247.6 C125.82 247.4 126.67 247.3 127.6 247.3 C128.53 247.3 129.6 247.45 130.6 247.6 C131.6 247.75 132.83 248.38 133.6 248.2 C134.37 248.02 134.7 247.25 135.2 246.5 C135.7 245.75 136.12 244.62 136.6 243.7 C137.08 242.78 137.6 241.82 138.1 241 C138.6 240.18 138.73 239.47 139.6 238.8 C140.47 238.13 141.57 237.4 143.3 237 C145.03 236.6 147.22 236.5 150 236.4 C152.78 236.3 158.33 236.4 160 236.4" fill="none" stroke="#3035a6" stroke-width="1.35" stroke-linejoin="round" stroke-linecap="round" opacity="1"/>
<path d="M96 236.8 C97.17 236.78 101.38 236.92 103 236.7 C104.62 236.48 104.87 237.45 105.7 235.5 C106.53 233.55 107.28 228.75 108 225 C108.72 221.25 109.33 216.4 110 213 C110.67 209.6 111.33 206.38 112 204.6 C112.67 202.82 113.3 202.75 114 202.3 C114.7 201.85 115.48 201.75 116.2 201.9 C116.92 202.05 117.6 202.55 118.3 203.2 C119 203.85 119.62 204.7 120.4 205.8 C121.18 206.9 122.07 208.43 123 209.8 C123.93 211.17 125.03 212.93 126 214 C126.97 215.07 127.87 215.67 128.8 216.2 C129.73 216.73 130.57 216.93 131.6 217.2 C132.63 217.47 133.83 217.57 135 217.8 C136.17 218.03 137.52 218.2 138.6 218.6 C139.68 219 140.57 219.63 141.5 220.2 C142.43 220.77 142.95 221.23 144.2 222 C145.45 222.77 147.37 224.03 149 224.8 C150.63 225.57 152.25 226.35 154 226.6 C155.75 226.85 158.58 226.35 159.5 226.3" fill="none" stroke="#f5a133" stroke-width="1.35" stroke-linejoin="round" stroke-linecap="round" opacity="1"/>
<path d="M96 236.8 C97.17 236.8 101.38 236.93 103 236.8 C104.62 236.67 104.87 237.72 105.7 236 C106.53 234.28 107.28 229.92 108 226.5 C108.72 223.08 109.33 218.58 110 215.5 C110.67 212.42 111.37 209.65 112 208 C112.63 206.35 113.22 206.08 113.8 205.6 C114.38 205.12 114.8 205 115.5 205.1 C116.2 205.2 117.18 205.62 118 206.2 C118.82 206.78 119.57 207.55 120.4 208.6 C121.23 209.65 122.07 211.22 123 212.5 C123.93 213.78 125.03 215.28 126 216.3 C126.97 217.32 127.87 218.02 128.8 218.6 C129.73 219.18 130.57 219.48 131.6 219.8 C132.63 220.12 133.83 220.25 135 220.5 C136.17 220.75 137.43 220.95 138.6 221.3 C139.77 221.65 140.83 222.13 142 222.6 C143.17 223.07 144.27 223.37 145.6 224.1 C146.93 224.83 148.6 226.22 150 227 C151.4 227.78 152.42 228.37 154 228.8 C155.58 229.23 158.58 229.47 159.5 229.6" fill="none" stroke="#2a9234" stroke-width="1.35" stroke-linejoin="round" stroke-linecap="round" opacity="1"/>
<line x1="63.3" y1="236.9" x2="97" y2="236.8" stroke="#6a70b0" stroke-width="0.95"/>
<path d="M96 235.8 C96.33 235.5 97.25 234.5 98 234 C98.75 233.5 99.57 233.3 100.5 232.8 C101.43 232.3 102.6 232.13 103.6 231 C104.6 229.87 105.57 227.87 106.5 226 C107.43 224.13 108.4 221.55 109.2 219.8 C110 218.05 110.6 216.78 111.3 215.5 C112 214.22 112.7 213.02 113.4 212.1 C114.1 211.18 114.8 210.47 115.5 210 C116.2 209.53 116.9 209.25 117.6 209.3 C118.3 209.35 119 209.72 119.7 210.3 C120.4 210.88 121.08 211.82 121.8 212.8 C122.52 213.78 123.3 215.07 124 216.2 C124.7 217.33 125.33 218.58 126 219.6 C126.67 220.62 127.3 221.57 128 222.3 C128.7 223.03 129.37 223.53 130.2 224 C131.03 224.47 132.07 224.87 133 225.1 C133.93 225.33 134.8 225.37 135.8 225.4 C136.8 225.43 137.83 225.33 139 225.3 C140.17 225.27 141.72 225 142.8 225.2 C143.88 225.4 144.58 226 145.5 226.5 C146.42 227 146.88 227.47 148.3 228.2 C149.72 228.93 152.13 230.08 154 230.9 C155.87 231.72 158.58 232.73 159.5 233.1" fill="none" stroke="#3035a6" stroke-width="1.35" stroke-linejoin="round" stroke-linecap="round" opacity="1"/>
<path d="M117.6 237.2 C118.53 237.2 122.07 239.07 123.2 237.2 C124.33 235.33 124 230.2 124.4 226 C124.8 221.8 125.17 217.67 125.6 212 C126.03 206.33 126.63 197.67 127 192 C127.37 186.33 127.43 181.5 127.8 178 C128.17 174.5 128.73 171.42 129.2 171 C129.67 170.58 129.97 172.08 130.6 175.5 C131.23 178.92 132.1 186.75 133 191.5 C133.9 196.25 135 200.92 136 204 C137 207.08 138.17 208.77 139 210 C139.83 211.23 140.33 211.57 141 211.4 C141.67 211.23 142.17 211.73 143 209 C143.83 206.27 145.07 200.67 146 195 C146.93 189.33 147.8 179.73 148.6 175 C149.4 170.27 150.13 167.35 150.8 166.6 C151.47 165.85 151.9 166.6 152.6 170.5 C153.3 174.4 154.22 183.58 155 190 C155.78 196.42 156.68 205 157.3 209 C157.92 213 158.47 213.17 158.7 214" fill="none" stroke="#e23c3c" stroke-width="1.15" stroke-linejoin="round" stroke-linecap="round" opacity="1"/>
<rect x="122" y="189.0" width="40" height="1.7" fill="#fff"/>
<rect x="30.8" y="161.3" width="138.2" height="112.1" fill="none" stroke="#5e5e5e" stroke-width="0.9"/>
<line x1="28.2" y1="165.5" x2="30.8" y2="165.5" stroke="#666" stroke-width="0.85"/>
<text x="26.9" y="167.3" font-family="Liberation Sans" font-size="5.0" font-weight="bold" text-anchor="end" fill="#1c1c1c" stroke="#1c1c1c" stroke-width="0.22">500</text>
<line x1="28.2" y1="180.1" x2="30.8" y2="180.1" stroke="#666" stroke-width="0.85"/>
<text x="26.9" y="181.9" font-family="Liberation Sans" font-size="5.0" font-weight="bold" text-anchor="end" fill="#1c1c1c" stroke="#1c1c1c" stroke-width="0.22">400</text>
<line x1="28.2" y1="205.2" x2="30.8" y2="205.2" stroke="#666" stroke-width="0.85"/>
<text x="26.9" y="207" font-family="Liberation Sans" font-size="5.0" font-weight="bold" text-anchor="end" fill="#1c1c1c" stroke="#1c1c1c" stroke-width="0.22">200</text>
<line x1="28.2" y1="220.9" x2="30.8" y2="220.9" stroke="#666" stroke-width="0.85"/>
<text x="26.9" y="222.7" font-family="Liberation Sans" font-size="5.0" font-weight="bold" text-anchor="end" fill="#1c1c1c" stroke="#1c1c1c" stroke-width="0.22">100</text>
<line x1="28.2" y1="236.6" x2="30.8" y2="236.6" stroke="#666" stroke-width="0.85"/>
<text x="26.9" y="238.4" font-family="Liberation Sans" font-size="5.0" font-weight="bold" text-anchor="end" fill="#1c1c1c" stroke="#1c1c1c" stroke-width="0.22">0</text>
<line x1="28.2" y1="252.3" x2="30.8" y2="252.3" stroke="#666" stroke-width="0.85"/>
<text x="26.9" y="254.1" font-family="Liberation Sans" font-size="5.0" font-weight="bold" text-anchor="end" fill="#1c1c1c" stroke="#1c1c1c" stroke-width="0.22">-100</text>
<line x1="28.2" y1="268" x2="30.8" y2="268" stroke="#666" stroke-width="0.85"/>
<text x="26.9" y="269.8" font-family="Liberation Sans" font-size="5.0" font-weight="bold" text-anchor="end" fill="#1c1c1c" stroke="#1c1c1c" stroke-width="0.22">-200</text>
<line x1="29.3" y1="172.8" x2="30.8" y2="172.8" stroke="#666" stroke-width="0.6"/>
<line x1="29.3" y1="187.4" x2="30.8" y2="187.4" stroke="#666" stroke-width="0.6"/>
<line x1="29.3" y1="213.05" x2="30.8" y2="213.05" stroke="#666" stroke-width="0.6"/>
<line x1="29.3" y1="228.75" x2="30.8" y2="228.75" stroke="#666" stroke-width="0.6"/>
<line x1="29.3" y1="244.45" x2="30.8" y2="244.45" stroke="#666" stroke-width="0.6"/>
<line x1="29.3" y1="260.15" x2="30.8" y2="260.15" stroke="#666" stroke-width="0.6"/>
<line x1="29.3" y1="275.85" x2="30.8" y2="275.85" stroke="#666" stroke-width="0.6"/>
<line x1="40" y1="273.4" x2="40" y2="275.8" stroke="#666" stroke-width="0.85"/>
<text x="40" y="281.3" font-family="Liberation Sans" font-size="5.0" font-weight="bold" text-anchor="middle" fill="#1c1c1c" stroke="#1c1c1c" stroke-width="0.22">2.0</text>
<line x1="61.4" y1="273.4" x2="61.4" y2="275.8" stroke="#666" stroke-width="0.85"/>
<text x="61.4" y="281.3" font-family="Liberation Sans" font-size="5.0" font-weight="bold" text-anchor="middle" fill="#1c1c1c" stroke="#1c1c1c" stroke-width="0.22">2.5</text>
<line x1="82.8" y1="273.4" x2="82.8" y2="275.8" stroke="#666" stroke-width="0.85"/>
<text x="82.8" y="281.3" font-family="Liberation Sans" font-size="5.0" font-weight="bold" text-anchor="middle" fill="#1c1c1c" stroke="#1c1c1c" stroke-width="0.22">3.0</text>
<line x1="104.2" y1="273.4" x2="104.2" y2="275.8" stroke="#666" stroke-width="0.85"/>
<text x="104.2" y="281.3" font-family="Liberation Sans" font-size="5.0" font-weight="bold" text-anchor="middle" fill="#1c1c1c" stroke="#1c1c1c" stroke-width="0.22">3.5</text>
<line x1="125.6" y1="273.4" x2="125.6" y2="275.8" stroke="#666" stroke-width="0.85"/>
<text x="125.6" y="281.3" font-family="Liberation Sans" font-size="5.0" font-weight="bold" text-anchor="middle" fill="#1c1c1c" stroke="#1c1c1c" stroke-width="0.22">4.0</text>
<line x1="147" y1="273.4" x2="147" y2="275.8" stroke="#666" stroke-width="0.85"/>
<text x="147" y="281.3" font-family="Liberation Sans" font-size="5.0" font-weight="bold" text-anchor="middle" fill="#1c1c1c" stroke="#1c1c1c" stroke-width="0.22">4.5</text>
<line x1="168.4" y1="273.4" x2="168.4" y2="275.8" stroke="#666" stroke-width="0.85"/>
<text x="168.4" y="281.3" font-family="Liberation Sans" font-size="5.0" font-weight="bold" text-anchor="middle" fill="#1c1c1c" stroke="#1c1c1c" stroke-width="0.22">5.0</text>
<line x1="50.7" y1="273.4" x2="50.7" y2="274.8" stroke="#666" stroke-width="0.6"/>
<line x1="72.1" y1="273.4" x2="72.1" y2="274.8" stroke="#666" stroke-width="0.6"/>
<line x1="93.5" y1="273.4" x2="93.5" y2="274.8" stroke="#666" stroke-width="0.6"/>
<line x1="114.9" y1="273.4" x2="114.9" y2="274.8" stroke="#666" stroke-width="0.6"/>
<line x1="136.3" y1="273.4" x2="136.3" y2="274.8" stroke="#666" stroke-width="0.6"/>
<line x1="157.7" y1="273.4" x2="157.7" y2="274.8" stroke="#666" stroke-width="0.6"/>
<rect x="29.3" y="186.8" width="3" height="4.4" fill="#fff"/>
<line x1="28.8" y1="188.3" x2="32.8" y2="186.6" stroke="#555" stroke-width="0.6"/>
<line x1="28.8" y1="191" x2="32.8" y2="189.3" stroke="#555" stroke-width="0.6"/>
<rect x="167.5" y="186.8" width="3" height="4.4" fill="#fff"/>
<line x1="167" y1="188.3" x2="171" y2="186.6" stroke="#555" stroke-width="0.6"/>
<line x1="167" y1="191" x2="171" y2="189.3" stroke="#555" stroke-width="0.6"/>
<text x="0" y="0" transform="translate(6 216) rotate(-90)" font-family="Liberation Sans" font-size="6.5" font-weight="bold" text-anchor="middle" dominant-baseline="central" fill="#1c1c1c" stroke="#1c1c1c" stroke-width="0.22">Differential Capacity (mAh/gV)</text>
<text x="99.5" y="291.7" font-family="Liberation Sans" font-size="6.4" font-weight="bold" text-anchor="middle" fill="#1c1c1c" stroke="#1c1c1c" stroke-width="0.22">Voltage(V)</text>
<text x="86.3" y="308.1" font-family="Liberation Serif" font-size="10.1" text-anchor="middle" fill="#1e1e1e"><tspan font-weight="normal" stroke="#1e1e1e" stroke-width="0.2">(</tspan><tspan font-weight="bold" stroke="#1e1e1e" stroke-width="0.42">a2</tspan><tspan font-weight="normal" stroke="#1e1e1e" stroke-width="0.2">)</tspan></text>
<line x1="37" y1="168" x2="37" y2="175.5" stroke="#aaa" stroke-width="0.6"/>
<text x="39.6" y="173.8" font-family="Liberation Sans" font-size="5.0" font-weight="bold" text-anchor="start" fill="#1c1c1c" stroke="#1c1c1c" stroke-width="0.22">x = 0.3</text>
<line x1="36.6" y1="182" x2="36.6" y2="207.5" stroke="#b5b5b5" stroke-width="0.6"/>
<line x1="74.2" y1="182" x2="74.2" y2="207.5" stroke="#b5b5b5" stroke-width="0.6"/>
<line x1="37.6" y1="184.9" x2="49.6" y2="184.9" stroke="#e3262c" stroke-width="1.35"/>
<text x="51.2" y="186.72" font-family="Liberation Sans" font-size="5.05" font-weight="bold" text-anchor="start" fill="#1c1c1c" stroke="#1c1c1c" stroke-width="0.22">1 Cycle</text>
<line x1="37.6" y1="191.4" x2="49.6" y2="191.4" stroke="#f4b45c" stroke-width="1.35"/>
<text x="51.2" y="193.22" font-family="Liberation Sans" font-size="5.05" font-weight="bold" text-anchor="start" fill="#1c1c1c" stroke="#1c1c1c" stroke-width="0.22">5 Cycles</text>
<line x1="37.6" y1="198" x2="49.6" y2="198" stroke="#2a9234" stroke-width="1.35"/>
<text x="51.2" y="199.82" font-family="Liberation Sans" font-size="5.05" font-weight="bold" text-anchor="start" fill="#1c1c1c" stroke="#1c1c1c" stroke-width="0.22">10 Cycles</text>
<line x1="37.6" y1="204.5" x2="49.6" y2="204.5" stroke="#3035a6" stroke-width="1.35"/>
<text x="51.2" y="206.32" font-family="Liberation Sans" font-size="5.05" font-weight="bold" text-anchor="start" fill="#1c1c1c" stroke="#1c1c1c" stroke-width="0.22">40 Cycles</text>
<text x="108.3" y="170.1" font-family="Liberation Sans" font-size="5.0" font-weight="bold" text-anchor="start" fill="#1c1c1c" stroke="#1c1c1c" stroke-width="0.22">4.1 V</text>
<line x1="120.2" y1="168.4" x2="125.82" y2="169.21" stroke="#e3262c" stroke-width="0.6"/>
<polygon points="127.8,169.5 125.69,170.1 125.95,168.32" fill="#e3262c"/>
<text x="133" y="167.6" font-family="Liberation Sans" font-size="5.0" font-weight="bold" text-anchor="start" fill="#1c1c1c" stroke="#1c1c1c" stroke-width="0.22">4.6 V</text>
<line x1="144.6" y1="165.8" x2="147.31" y2="166.03" stroke="#e3262c" stroke-width="0.6"/>
<polygon points="149.3,166.2 147.23,166.93 147.38,165.13" fill="#e3262c"/>
<text x="90" y="199" font-family="Liberation Sans" font-size="5.0" font-weight="bold" text-anchor="start" fill="#1c1c1c" stroke="#1c1c1c" stroke-width="0.22">3.64 - 3.8 V</text>
<text x="44.5" y="252.1" font-family="Liberation Sans" font-size="5.0" font-weight="bold" text-anchor="start" fill="#1c1c1c" stroke="#1c1c1c" stroke-width="0.22">2.93 V</text>
<line x1="58.8" y1="250.2" x2="74.5" y2="249.31" stroke="#3035a6" stroke-width="0.6"/>
<polygon points="76.5,249.2 74.55,250.21 74.45,248.41" fill="#3035a6"/>
<text x="78" y="267.2" font-family="Liberation Sans" font-size="5.0" font-weight="bold" text-anchor="start" fill="#1c1c1c" stroke="#1c1c1c" stroke-width="0.22">3.80 V</text>
<line x1="92.5" y1="265.8" x2="109.42" y2="268.22" stroke="#e3262c" stroke-width="0.6"/>
<polygon points="111.4,268.5 109.29,269.11 109.55,267.33" fill="#e3262c"/>
<text x="134.9" y="259.9" font-family="Liberation Sans" font-size="5.0" font-weight="bold" text-anchor="start" fill="#1c1c1c" stroke="#1c1c1c" stroke-width="0.22">4.3 - 4.21 V</text>
<line x1="131" y1="212" x2="131" y2="228.2" stroke="#222" stroke-width="0.8"/>
<polygon points="131,230.8 129.83,228.2 132.17,228.2" fill="#222"/>
<line x1="124.3" y1="268" x2="115.38" y2="246.21" stroke="#222" stroke-width="0.8"/>
<polygon points="114.4,243.8 116.47,245.76 114.3,246.65" fill="#222"/>
<line x1="79.4" y1="238.5" x2="79.4" y2="248" stroke="#555" stroke-width="0.5"/>
<line x1="79.4" y1="253.5" x2="79.4" y2="251.1" stroke="#222" stroke-width="0.6"/>
<polygon points="79.4,249.3 80.21,251.1 78.59,251.1" fill="#222"/>
<path d="M232 235.2 C233.33 235.1 230.25 234.72 240 234.6 C249.75 234.48 281 234.68 290.5 234.5 C300 234.32 295.37 234.22 297 233.5 C298.63 232.78 299.35 232.53 300.3 230.2 C301.25 227.87 301.88 223.18 302.7 219.5 C303.52 215.82 304.37 211.05 305.2 208.1 C306.03 205.15 306.88 202.98 307.7 201.8 C308.52 200.62 309.05 201.03 310.1 201 C311.15 200.97 312.67 201.3 314 201.6 C315.33 201.9 316.6 202.07 318.1 202.8 C319.6 203.53 321.33 204.77 323 206 C324.67 207.23 326.68 209.03 328.1 210.2 C329.52 211.37 330.4 212.3 331.5 213 C332.6 213.7 333.7 214.3 334.7 214.4 C335.7 214.5 336.65 214.5 337.5 213.6 C338.35 212.7 339.18 211.1 339.8 209 C340.42 206.9 340.77 203.83 341.2 201 C341.63 198.17 341.97 195.83 342.4 192 C342.83 188.17 343.33 181.92 343.8 178 C344.27 174.08 344.78 170.4 345.2 168.5 C345.62 166.6 345.9 166.68 346.3 166.6 C346.7 166.52 347.18 167.1 347.6 168 C348.02 168.9 348.6 171.33 348.8 172" fill="none" stroke="#e3262c" stroke-width="1.35" stroke-linejoin="round" stroke-linecap="round" opacity="1"/>
<path d="M232 235.2 C233.33 235.1 231.62 234.72 240 234.6 C248.38 234.48 274.3 234.68 282.3 234.5 C290.3 234.32 286.1 234.08 288 233.5 C289.9 232.92 291.93 232.5 293.7 231 C295.47 229.5 297.23 227.77 298.6 224.5 C299.97 221.23 300.92 215.15 301.9 211.4 C302.88 207.65 303.65 204.1 304.5 202 C305.35 199.9 306.08 199.17 307 198.8 C307.92 198.43 308.83 199.38 310 199.8 C311.17 200.22 312.33 200.6 314 201.3 C315.67 202 318 202.88 320 204 C322 205.12 324 206.33 326 208 C328 209.67 330 212.17 332 214 C334 215.83 336 218.12 338 219 C340 219.88 342.2 219.38 344 219.3 C345.8 219.22 348 218.63 348.8 218.5" fill="none" stroke="#f5a133" stroke-width="1.35" stroke-linejoin="round" stroke-linecap="round" opacity="1"/>
<path d="M229 235.6 C230.83 235.43 232.48 234.82 240 234.6 C247.52 234.38 266.78 234.9 274.1 234.3 C281.42 233.7 281.17 232.37 283.9 231 C286.63 229.63 288.58 228.83 290.5 226.1 C292.42 223.37 294.05 218.15 295.4 214.6 C296.75 211.05 297.53 207.82 298.6 204.8 C299.67 201.78 300.82 198.47 301.8 196.5 C302.78 194.53 303.73 193.7 304.5 193 C305.27 192.3 305.65 192 306.4 192.3 C307.15 192.6 307.9 193.35 309 194.8 C310.1 196.25 311.5 199.17 313 201 C314.5 202.83 316.17 204.8 318 205.8 C319.83 206.8 322.33 206.47 324 207 C325.67 207.53 326.5 207.75 328 209 C329.5 210.25 331.33 212.92 333 214.5 C334.67 216.08 336.17 218 338 218.5 C339.83 219 342.2 217.75 344 217.5 C345.8 217.25 348 217.08 348.8 217" fill="none" stroke="#2a9234" stroke-width="1.35" stroke-linejoin="round" stroke-linecap="round" opacity="1"/>
<path d="M226.5 236.2 C228.75 235.93 233.43 234.92 240 234.6 C246.57 234.28 260.22 234.77 265.9 234.3 C271.58 233.83 271.92 232.9 274.1 231.8 C276.28 230.7 277.63 229.75 279 227.7 C280.37 225.65 281.35 221.68 282.3 219.5 C283.25 217.32 283.88 215.92 284.7 214.6 C285.52 213.28 285.97 212.45 287.2 211.6 C288.43 210.75 290.47 210.68 292.1 209.5 C293.73 208.32 295.63 206.65 297 204.5 C298.37 202.35 299.3 199.27 300.3 196.6 C301.3 193.93 302.02 190.43 303 188.5 C303.98 186.57 305.2 185.08 306.2 185 C307.2 184.92 307.87 186 309 188 C310.13 190 311.83 194.5 313 197 C314.17 199.5 314.9 201.53 316 203 C317.1 204.47 318.27 205.27 319.6 205.8 C320.93 206.33 322.6 205.77 324 206.2 C325.4 206.63 326.67 207.27 328 208.4 C329.33 209.53 330.33 211.07 332 213 C333.67 214.93 336 218.08 338 220 C340 221.92 342.2 223.5 344 224.5 C345.8 225.5 348 225.75 348.8 226" fill="none" stroke="#3035a6" stroke-width="1.35" stroke-linejoin="round" stroke-linecap="round" opacity="1"/>
<path d="M226 237 C230 236.93 242.95 236.6 250 236.6 C257.05 236.6 263.13 235.97 268.3 237 C273.47 238.03 277.6 241.2 281 242.8 C284.4 244.4 286.15 245.5 288.7 246.6 C291.25 247.7 294.18 247.92 296.3 249.4 C298.42 250.88 299.48 253.42 301.4 255.5 C303.32 257.58 305.88 260.6 307.8 261.9 C309.72 263.2 311.37 263.25 312.9 263.3 C314.43 263.35 315.52 262.82 317 262.2 C318.48 261.58 320.13 260.55 321.8 259.6 C323.47 258.65 325.3 258.43 327 256.5 C328.7 254.57 330.5 250.92 332 248 C333.5 245.08 334.73 240.95 336 239 C337.27 237.05 337.5 236.83 339.6 236.3 C341.7 235.77 347.1 235.88 348.6 235.8" fill="none" stroke="#e3262c" stroke-width="1.35" stroke-linejoin="round" stroke-linecap="round" opacity="1"/>
<path d="M226 237 C230 236.93 243.37 236.6 250 236.6 C256.63 236.6 261.47 235.97 265.8 237 C270.13 238.03 273.03 240.98 276 242.8 C278.97 244.62 281.27 246.63 283.6 247.9 C285.93 249.17 287.88 249.55 290 250.4 C292.12 251.25 294.4 251.3 296.3 253 C298.2 254.7 299.7 258.7 301.4 260.6 C303.1 262.5 304.8 263.93 306.5 264.4 C308.2 264.87 309.85 263.88 311.6 263.4 C313.35 262.92 315.27 262.18 317 261.5 C318.73 260.82 320.33 260.08 322 259.3 C323.67 258.52 325.33 258.92 327 256.8 C328.67 254.68 330.5 249.65 332 246.6 C333.5 243.55 334.92 240.2 336 238.5 C337.08 236.8 336.4 236.85 338.5 236.4 C340.6 235.95 346.92 235.9 348.6 235.8" fill="none" stroke="#f5a133" stroke-width="1.35" stroke-linejoin="round" stroke-linecap="round" opacity="1"/>
<path d="M226 237 C230 236.93 244 236.6 250 236.6 C256 236.6 258.52 236.18 262 237 C265.48 237.82 268.15 239.27 270.9 241.5 C273.65 243.73 275.95 248.45 278.5 250.4 C281.05 252.35 284.08 252.32 286.2 253.2 C288.32 254.08 289.52 254.25 291.2 255.7 C292.88 257.15 294.6 260.05 296.3 261.9 C298 263.75 299.7 266.15 301.4 266.8 C303.1 267.45 304.8 266.43 306.5 265.8 C308.2 265.17 309.9 263.87 311.6 263 C313.3 262.13 314.58 261.6 316.7 260.6 C318.82 259.6 322.25 258.43 324.3 257 C326.35 255.57 327.72 253.93 329 252 C330.28 250.07 331 247.65 332 245.4 C333 243.15 334.17 240 335 238.5 C335.83 237 334.73 236.85 337 236.4 C339.27 235.95 346.67 235.9 348.6 235.8" fill="none" stroke="#2a9234" stroke-width="1.35" stroke-linejoin="round" stroke-linecap="round" opacity="1"/>
<path d="M226 237 C230 236.93 244.63 236.67 250 236.6 C255.37 236.53 255.78 235.98 258.2 236.6 C260.62 237.22 262.82 238.42 264.5 240.3 C266.18 242.18 267.23 245.37 268.3 247.9 C269.37 250.43 270.05 253.02 270.9 255.5 C271.75 257.98 272.33 261.02 273.4 262.8 C274.47 264.58 275.82 265.7 277.3 266.2 C278.78 266.7 280.85 266.42 282.3 265.8 C283.75 265.18 284.8 263.4 286 262.5 C287.2 261.6 288.42 260.88 289.5 260.4 C290.58 259.92 291.37 259.13 292.5 259.6 C293.63 260.07 294.82 261.85 296.3 263.2 C297.78 264.55 299.7 267.07 301.4 267.7 C303.1 268.33 304.38 267.95 306.5 267 C308.62 266.05 311.55 263.45 314.1 262 C316.65 260.55 319.67 259.72 321.8 258.3 C323.93 256.88 325.53 255.55 326.9 253.5 C328.27 251.45 329.15 248.2 330 246 C330.85 243.8 331.03 241.9 332 240.3 C332.97 238.7 333.03 237.17 335.8 236.4 C338.57 235.63 346.47 235.82 348.6 235.7" fill="none" stroke="#3035a6" stroke-width="1.35" stroke-linejoin="round" stroke-linecap="round" opacity="1"/>
<rect x="217.2" y="160.8" width="140" height="113.4" fill="none" stroke="#444" stroke-width="0.8"/>
<line x1="214.6" y1="165.32" x2="217.2" y2="165.32" stroke="#444" stroke-width="0.85"/>
<text x="213.6" y="167.16" font-family="Liberation Sans" font-size="5.1" font-weight="bold" text-anchor="end" fill="#1c1c1c" stroke="#1c1c1c" stroke-width="0.22">350</text>
<line x1="214.6" y1="175.25" x2="217.2" y2="175.25" stroke="#444" stroke-width="0.85"/>
<text x="213.6" y="177.09" font-family="Liberation Sans" font-size="5.1" font-weight="bold" text-anchor="end" fill="#1c1c1c" stroke="#1c1c1c" stroke-width="0.22">300</text>
<line x1="214.6" y1="185.18" x2="217.2" y2="185.18" stroke="#444" stroke-width="0.85"/>
<text x="213.6" y="187.01" font-family="Liberation Sans" font-size="5.1" font-weight="bold" text-anchor="end" fill="#1c1c1c" stroke="#1c1c1c" stroke-width="0.22">250</text>
<line x1="214.6" y1="195.1" x2="217.2" y2="195.1" stroke="#444" stroke-width="0.85"/>
<text x="213.6" y="196.94" font-family="Liberation Sans" font-size="5.1" font-weight="bold" text-anchor="end" fill="#1c1c1c" stroke="#1c1c1c" stroke-width="0.22">200</text>
<line x1="214.6" y1="205.03" x2="217.2" y2="205.03" stroke="#444" stroke-width="0.85"/>
<text x="213.6" y="206.86" font-family="Liberation Sans" font-size="5.1" font-weight="bold" text-anchor="end" fill="#1c1c1c" stroke="#1c1c1c" stroke-width="0.22">150</text>
<line x1="214.6" y1="214.95" x2="217.2" y2="214.95" stroke="#444" stroke-width="0.85"/>
<text x="213.6" y="216.79" font-family="Liberation Sans" font-size="5.1" font-weight="bold" text-anchor="end" fill="#1c1c1c" stroke="#1c1c1c" stroke-width="0.22">100</text>
<line x1="214.6" y1="224.88" x2="217.2" y2="224.88" stroke="#444" stroke-width="0.85"/>
<text x="213.6" y="226.71" font-family="Liberation Sans" font-size="5.1" font-weight="bold" text-anchor="end" fill="#1c1c1c" stroke="#1c1c1c" stroke-width="0.22">50</text>
<line x1="214.6" y1="234.8" x2="217.2" y2="234.8" stroke="#444" stroke-width="0.85"/>
<text x="213.6" y="236.64" font-family="Liberation Sans" font-size="5.1" font-weight="bold" text-anchor="end" fill="#1c1c1c" stroke="#1c1c1c" stroke-width="0.22">0</text>
<line x1="214.6" y1="244.73" x2="217.2" y2="244.73" stroke="#444" stroke-width="0.85"/>
<text x="213.6" y="246.56" font-family="Liberation Sans" font-size="5.1" font-weight="bold" text-anchor="end" fill="#1c1c1c" stroke="#1c1c1c" stroke-width="0.22">-50</text>
<line x1="214.6" y1="254.65" x2="217.2" y2="254.65" stroke="#444" stroke-width="0.85"/>
<text x="213.6" y="256.49" font-family="Liberation Sans" font-size="5.1" font-weight="bold" text-anchor="end" fill="#1c1c1c" stroke="#1c1c1c" stroke-width="0.22">-100</text>
<line x1="214.6" y1="264.57" x2="217.2" y2="264.57" stroke="#444" stroke-width="0.85"/>
<text x="213.6" y="266.41" font-family="Liberation Sans" font-size="5.1" font-weight="bold" text-anchor="end" fill="#1c1c1c" stroke="#1c1c1c" stroke-width="0.22">-150</text>
<line x1="214.6" y1="274.5" x2="217.2" y2="274.5" stroke="#444" stroke-width="0.85"/>
<text x="213.6" y="276.34" font-family="Liberation Sans" font-size="5.1" font-weight="bold" text-anchor="end" fill="#1c1c1c" stroke="#1c1c1c" stroke-width="0.22">-200</text>
<line x1="226.3" y1="274.2" x2="226.3" y2="276.6" stroke="#444" stroke-width="0.85"/>
<text x="226.3" y="282.5" font-family="Liberation Sans" font-size="5.1" font-weight="bold" text-anchor="middle" fill="#1c1c1c" stroke="#1c1c1c" stroke-width="0.22">2.0</text>
<line x1="248.02" y1="274.2" x2="248.02" y2="276.6" stroke="#444" stroke-width="0.85"/>
<text x="248.02" y="282.5" font-family="Liberation Sans" font-size="5.1" font-weight="bold" text-anchor="middle" fill="#1c1c1c" stroke="#1c1c1c" stroke-width="0.22">2.5</text>
<line x1="269.73" y1="274.2" x2="269.73" y2="276.6" stroke="#444" stroke-width="0.85"/>
<text x="269.73" y="282.5" font-family="Liberation Sans" font-size="5.1" font-weight="bold" text-anchor="middle" fill="#1c1c1c" stroke="#1c1c1c" stroke-width="0.22">3.0</text>
<line x1="291.44" y1="274.2" x2="291.44" y2="276.6" stroke="#444" stroke-width="0.85"/>
<text x="291.44" y="282.5" font-family="Liberation Sans" font-size="5.1" font-weight="bold" text-anchor="middle" fill="#1c1c1c" stroke="#1c1c1c" stroke-width="0.22">3.5</text>
<line x1="313.16" y1="274.2" x2="313.16" y2="276.6" stroke="#444" stroke-width="0.85"/>
<text x="313.16" y="282.5" font-family="Liberation Sans" font-size="5.1" font-weight="bold" text-anchor="middle" fill="#1c1c1c" stroke="#1c1c1c" stroke-width="0.22">4.0</text>
<line x1="334.88" y1="274.2" x2="334.88" y2="276.6" stroke="#444" stroke-width="0.85"/>
<text x="334.88" y="282.5" font-family="Liberation Sans" font-size="5.1" font-weight="bold" text-anchor="middle" fill="#1c1c1c" stroke="#1c1c1c" stroke-width="0.22">4.5</text>
<line x1="356.59" y1="274.2" x2="356.59" y2="276.6" stroke="#444" stroke-width="0.85"/>
<text x="356.59" y="282.5" font-family="Liberation Sans" font-size="5.1" font-weight="bold" text-anchor="middle" fill="#1c1c1c" stroke="#1c1c1c" stroke-width="0.22">5.0</text>
<line x1="237.16" y1="274.2" x2="237.16" y2="275.6" stroke="#444" stroke-width="0.6"/>
<line x1="258.87" y1="274.2" x2="258.87" y2="275.6" stroke="#444" stroke-width="0.6"/>
<line x1="280.59" y1="274.2" x2="280.59" y2="275.6" stroke="#444" stroke-width="0.6"/>
<line x1="302.3" y1="274.2" x2="302.3" y2="275.6" stroke="#444" stroke-width="0.6"/>
<line x1="324.02" y1="274.2" x2="324.02" y2="275.6" stroke="#444" stroke-width="0.6"/>
<line x1="345.73" y1="274.2" x2="345.73" y2="275.6" stroke="#444" stroke-width="0.6"/>
<text x="0" y="0" transform="translate(193 221.2) rotate(-90)" font-family="Liberation Sans" font-size="6.6" font-weight="bold" text-anchor="middle" dominant-baseline="central" fill="#1c1c1c" stroke="#1c1c1c" stroke-width="0.22">Differential Capacity (mAh/gV)</text>
<text x="287.4" y="293.1" font-family="Liberation Sans" font-size="6.5" font-weight="bold" text-anchor="middle" fill="#1c1c1c" stroke="#1c1c1c" stroke-width="0.22">Voltage (V)</text>
<text x="275.2" y="308" font-family="Liberation Serif" font-size="10.1" text-anchor="middle" fill="#1e1e1e"><tspan font-weight="normal" stroke="#1e1e1e" stroke-width="0.2">(</tspan><tspan font-weight="bold" stroke="#1e1e1e" stroke-width="0.42">b2</tspan><tspan font-weight="normal" stroke="#1e1e1e" stroke-width="0.2">)</tspan></text>
<rect x="222.7" y="167" width="20.9" height="7.7" fill="#fff" stroke="#9a9a9a" stroke-width="0.6"/>
<text x="233.2" y="172.9" font-family="Liberation Sans" font-size="5.0" font-weight="bold" text-anchor="middle" fill="#1c1c1c" stroke="#1c1c1c" stroke-width="0.22">x = 0.5</text>
<rect x="222.7" y="179" width="39.9" height="26.3" fill="#fff" stroke="#b0b0b0" stroke-width="0.6"/>
<line x1="225.3" y1="182.9" x2="236" y2="182.9" stroke="#e3262c" stroke-width="1.35"/>
<text x="238" y="184.77" font-family="Liberation Sans" font-size="5.2" font-weight="bold" text-anchor="start" fill="#1c1c1c" stroke="#1c1c1c" stroke-width="0.22">1 Cycle</text>
<line x1="225.3" y1="189.1" x2="236" y2="189.1" stroke="#f4b45c" stroke-width="1.35"/>
<text x="238" y="190.97" font-family="Liberation Sans" font-size="5.2" font-weight="bold" text-anchor="start" fill="#1c1c1c" stroke="#1c1c1c" stroke-width="0.22">5 Cycles</text>
<line x1="225.3" y1="195.6" x2="236" y2="195.6" stroke="#2a9234" stroke-width="1.35"/>
<text x="238" y="197.47" font-family="Liberation Sans" font-size="5.2" font-weight="bold" text-anchor="start" fill="#1c1c1c" stroke="#1c1c1c" stroke-width="0.22">10 Cycles</text>
<line x1="225.3" y1="202" x2="236" y2="202" stroke="#3035a6" stroke-width="1.35"/>
<text x="238" y="203.87" font-family="Liberation Sans" font-size="5.2" font-weight="bold" text-anchor="start" fill="#1c1c1c" stroke="#1c1c1c" stroke-width="0.22">40 Cycles</text>
<text x="317.9" y="168.3" font-family="Liberation Sans" font-size="5.0" font-weight="bold" text-anchor="start" fill="#1c1c1c" stroke="#1c1c1c" stroke-width="0.22">4.75 V</text>
<line x1="333" y1="166.4" x2="346.3" y2="166.4" stroke="#e3262c" stroke-width="0.6"/>
<polygon points="348.3,166.4 346.3,167.3 346.3,165.5" fill="#e3262c"/>
<text x="280.3" y="181.5" font-family="Liberation Sans" font-size="5.0" font-weight="bold" text-anchor="start" fill="#1c1c1c" stroke="#1c1c1c" stroke-width="0.22">3.89 - 3.81 V</text>
<text x="320.4" y="192" font-family="Liberation Sans" font-size="5.0" font-weight="bold" text-anchor="start" fill="#1c1c1c" stroke="#1c1c1c" stroke-width="0.22">4.32 V</text>
<line x1="328" y1="193.5" x2="328" y2="205" stroke="#3035a6" stroke-width="0.6"/>
<polygon points="328,207 327.1,205 328.9,205" fill="#3035a6"/>
<text x="249.2" y="223.4" font-family="Liberation Sans" font-size="5.0" font-weight="bold" text-anchor="start" fill="#1c1c1c" stroke="#1c1c1c" stroke-width="0.22">3.4 V</text>
<line x1="262.3" y1="220.2" x2="281.1" y2="214.12" stroke="#3035a6" stroke-width="0.6"/>
<polygon points="283,213.5 281.37,214.97 280.82,213.26" fill="#3035a6"/>
<text x="240.6" y="270.3" font-family="Liberation Sans" font-size="5.0" font-weight="bold" text-anchor="start" fill="#1c1c1c" stroke="#1c1c1c" stroke-width="0.22">3.23 V</text>
<line x1="255.5" y1="268.6" x2="272.3" y2="268.24" stroke="#3035a6" stroke-width="0.6"/>
<polygon points="274.3,268.2 272.32,269.14 272.28,267.34" fill="#3035a6"/>
<text x="340.6" y="260.6" font-family="Liberation Sans" font-size="5.0" font-weight="bold" text-anchor="start" fill="#1c1c1c" stroke="#1c1c1c" stroke-width="0.22">4.2 V</text>
<line x1="340" y1="258.8" x2="326.3" y2="258.8" stroke="#3035a6" stroke-width="0.6"/>
<polygon points="324.3,258.8 326.3,257.9 326.3,259.7" fill="#3035a6"/>
<text x="310" y="272" font-family="Liberation Sans" font-size="5.0" font-weight="bold" text-anchor="start" fill="#1c1c1c" stroke="#1c1c1c" stroke-width="0.22">3.84 - 3.74 V</text>
<line x1="311.7" y1="213.8" x2="288.87" y2="206.4" stroke="#333" stroke-width="0.7"/>
<polygon points="286.4,205.6 289.23,205.29 288.51,207.51" fill="#333"/>
<line x1="291.2" y1="245.4" x2="265.82" y2="251.86" stroke="#333" stroke-width="0.7"/>
<polygon points="263.3,252.5 265.53,250.72 266.11,252.99" fill="#333"/>
<path d="M414.4 259.2 C415.48 259 418 258.3 420.9 258 C423.8 257.7 429.25 257.6 431.8 257.4 C434.35 257.2 433.47 257.02 436.2 256.8 C438.93 256.58 444.23 256.18 448.2 256.1 C452.17 256.02 457.2 256.18 460 256.3 C462.8 256.42 461.9 256.68 465 256.8 C468.1 256.92 475.27 256.8 478.6 257 C481.93 257.2 483.17 257.65 485 258 C486.83 258.35 488.27 258.73 489.6 259.1 C490.93 259.47 491.93 260.08 493 260.2 C494.07 260.32 494.98 260.25 496 259.8 C497.02 259.35 497.9 258.3 499.1 257.5 C500.3 256.7 500.93 255.75 503.2 255 C505.47 254.25 507.7 253.55 512.7 253 C517.7 252.45 529.78 251.92 533.2 251.7" fill="none" stroke="#e3262c" stroke-width="1.35" stroke-linejoin="round" stroke-linecap="round" opacity="1"/>
<path d="M414.4 259.2 C415.48 259 418 258.28 420.9 258 C423.8 257.72 429.25 257.57 431.8 257.5 C434.35 257.43 434.38 257.52 436.2 257.6 C438.02 257.68 439.8 257.77 442.7 258 C445.6 258.23 450.72 258.77 453.6 259 C456.48 259.23 458.1 259.38 460 259.4 C461.9 259.42 463 259.33 465 259.1 C467 258.87 469.73 258.27 472 258 C474.27 257.73 476.35 257.4 478.6 257.5 C480.85 257.6 483.22 258.1 485.5 258.6 C487.78 259.1 490.27 260.42 492.3 260.5 C494.33 260.58 495.88 260.02 497.7 259.1 C499.52 258.18 500.7 256.02 503.2 255 C505.7 253.98 507.7 253.55 512.7 253 C517.7 252.45 529.78 251.92 533.2 251.7" fill="none" stroke="#f5a133" stroke-width="1.35" stroke-linejoin="round" stroke-linecap="round" opacity="1"/>
<path d="M414.4 259.2 C415.48 259 418 258.28 420.9 258 C423.8 257.72 429.25 257.48 431.8 257.5 C434.35 257.52 433.47 257.55 436.2 258.1 C438.93 258.65 444.38 260.08 448.2 260.8 C452.02 261.52 456.3 262.23 459.1 262.4 C461.9 262.57 462.88 262.33 465 261.8 C467.12 261.27 469.53 259.88 471.8 259.2 C474.07 258.52 476.32 257.73 478.6 257.7 C480.88 257.67 483.22 258.48 485.5 259 C487.78 259.52 490.27 260.78 492.3 260.8 C494.33 260.82 495.88 260.07 497.7 259.1 C499.52 258.13 500.7 256.02 503.2 255 C505.7 253.98 507.7 253.55 512.7 253 C517.7 252.45 529.78 251.92 533.2 251.7" fill="none" stroke="#2a9234" stroke-width="1.35" stroke-linejoin="round" stroke-linecap="round" opacity="1"/>
<path d="M414.4 259.2 C415.48 259 418 258.28 420.9 258 C423.8 257.72 429.25 257.4 431.8 257.5 C434.35 257.6 433.47 257.78 436.2 258.6 C438.93 259.42 444.93 261.3 448.2 262.4 C451.47 263.5 453.62 264.65 455.8 265.2 C457.98 265.75 459.77 265.8 461.3 265.7 C462.83 265.6 463.25 265.47 465 264.6 C466.75 263.73 469.53 261.65 471.8 260.5 C474.07 259.35 476.32 257.93 478.6 257.7 C480.88 257.47 483.22 258.53 485.5 259.1 C487.78 259.67 490.27 261.1 492.3 261.1 C494.33 261.1 495.88 260.12 497.7 259.1 C499.52 258.08 500.7 256.02 503.2 255 C505.7 253.98 507.7 253.53 512.7 253 C517.7 252.47 529.78 252 533.2 251.8" fill="none" stroke="#3035a6" stroke-width="1.35" stroke-linejoin="round" stroke-linecap="round" opacity="1"/>
<path d="M443.8 251.5 C447.33 251.38 458.97 251.08 465 250.8 C471.03 250.52 475.83 250.17 480 249.8 C484.17 249.43 487.5 248.97 490 248.6 C492.5 248.23 493.25 247.95 495 247.6 C496.75 247.25 498.95 247.17 500.5 246.5 C502.05 245.83 502.93 244.6 504.3 243.6 C505.67 242.6 507.27 241.58 508.7 240.5 C510.13 239.42 511.02 238.62 512.9 237.1 C514.78 235.58 518.1 233.42 520 231.4 C521.9 229.38 523.13 227.48 524.3 225 C525.47 222.52 526.22 219.67 527 216.5 C527.78 213.33 528.42 209.42 529 206 C529.58 202.58 530.25 197.67 530.5 196" fill="none" stroke="#f5a133" stroke-width="1.35" stroke-linejoin="round" stroke-linecap="round" opacity="1"/>
<path d="M443.8 251.4 C447.33 251.27 458.97 250.92 465 250.6 C471.03 250.28 475.83 250.08 480 249.5 C484.17 248.92 487.5 247.72 490 247.1 C492.5 246.48 493.25 246.15 495 245.8 C496.75 245.45 498.95 245.57 500.5 245 C502.05 244.43 502.93 243.32 504.3 242.4 C505.67 241.48 507.27 240.85 508.7 239.5 C510.13 238.15 511.25 235.77 512.9 234.3 C514.55 232.83 516.7 232.25 518.6 230.7 C520.5 229.15 522.88 227.38 524.3 225 C525.72 222.62 526.27 219.73 527.1 216.4 C527.93 213.07 528.7 208.57 529.3 205 C529.9 201.43 530.25 198.33 530.7 195 C531.15 191.67 531.78 186.67 532 185" fill="none" stroke="#2a9234" stroke-width="1.35" stroke-linejoin="round" stroke-linecap="round" opacity="1"/>
<path d="M443.8 251.3 C447.33 251.12 459.2 250.53 465 250.2 C470.8 249.87 475.1 249.67 478.6 249.3 C482.1 248.93 484.1 248.6 486 248 C487.9 247.4 488.73 246.33 490 245.7 C491.27 245.07 492.42 244.67 493.6 244.2 C494.78 243.73 495.87 243.22 497.1 242.9 C498.33 242.58 499.8 242.55 501 242.3 C502.2 242.05 503.13 241.95 504.3 241.4 C505.47 240.85 506.82 239.83 508 239 C509.18 238.17 510.32 237.57 511.4 236.4 C512.48 235.23 513.55 233.42 514.5 232 C515.45 230.58 516.18 229.3 517.1 227.9 C518.02 226.5 519.17 224.43 520 223.6 C520.83 222.77 521.38 223.02 522.1 222.9 C522.82 222.78 523.58 223.5 524.3 222.9 C525.02 222.3 525.68 221.1 526.4 219.3 C527.12 217.5 527.88 214.48 528.6 212.1 C529.32 209.72 530.13 207.13 530.7 205 C531.27 202.87 531.78 200.25 532 199.3" fill="none" stroke="#3035a6" stroke-width="1.35" stroke-linejoin="round" stroke-linecap="round" opacity="1"/>
<path d="M496.4 251.2 C497.83 251.13 502.73 250.97 505 250.8 C507.27 250.63 508.67 250.5 510 250.2 C511.33 249.9 512.08 249.5 513 249 C513.92 248.5 514.75 247.87 515.5 247.2 C516.25 246.53 516.75 246.08 517.5 245 C518.25 243.92 519.3 243.08 520 240.7 C520.7 238.32 521.22 234.27 521.7 230.7 C522.18 227.13 522.52 223.58 522.9 219.3 C523.28 215.02 523.62 208.35 524 205 C524.38 201.65 524.77 201.7 525.2 199.2 C525.63 196.7 526.1 193.02 526.6 190 C527.1 186.98 527.68 184.1 528.2 181.1 C528.72 178.1 529.2 174.77 529.7 172 C530.2 169.23 530.95 165.75 531.2 164.5" fill="none" stroke="#e83c3c" stroke-width="1.15" stroke-linejoin="round" stroke-linecap="round" opacity="1"/>
<rect x="522" y="180.9" width="12" height="2.2" fill="#fff"/>
<rect x="403" y="159.8" width="139.3" height="111.9" fill="none" stroke="#444" stroke-width="0.8"/>
<line x1="400.4" y1="166.4" x2="403" y2="166.4" stroke="#444" stroke-width="0.85"/>
<text x="399.8" y="168.24" font-family="Liberation Sans" font-size="5.1" font-weight="bold" text-anchor="end" fill="#1c1c1c" stroke="#1c1c1c" stroke-width="0.22">1600</text>
<line x1="400.4" y1="180.4" x2="403" y2="180.4" stroke="#444" stroke-width="0.85"/>
<text x="399.8" y="182.24" font-family="Liberation Sans" font-size="5.1" font-weight="bold" text-anchor="end" fill="#1c1c1c" stroke="#1c1c1c" stroke-width="0.22">1200</text>
<line x1="400.4" y1="196.8" x2="403" y2="196.8" stroke="#444" stroke-width="0.85"/>
<text x="399.8" y="198.64" font-family="Liberation Sans" font-size="5.1" font-weight="bold" text-anchor="end" fill="#1c1c1c" stroke="#1c1c1c" stroke-width="0.22">400</text>
<line x1="400.4" y1="210.5" x2="403" y2="210.5" stroke="#444" stroke-width="0.85"/>
<text x="399.8" y="212.34" font-family="Liberation Sans" font-size="5.1" font-weight="bold" text-anchor="end" fill="#1c1c1c" stroke="#1c1c1c" stroke-width="0.22">300</text>
<line x1="400.4" y1="224.2" x2="403" y2="224.2" stroke="#444" stroke-width="0.85"/>
<text x="399.8" y="226.04" font-family="Liberation Sans" font-size="5.1" font-weight="bold" text-anchor="end" fill="#1c1c1c" stroke="#1c1c1c" stroke-width="0.22">200</text>
<line x1="400.4" y1="237.9" x2="403" y2="237.9" stroke="#444" stroke-width="0.85"/>
<text x="399.8" y="239.74" font-family="Liberation Sans" font-size="5.1" font-weight="bold" text-anchor="end" fill="#1c1c1c" stroke="#1c1c1c" stroke-width="0.22">100</text>
<line x1="400.4" y1="251.6" x2="403" y2="251.6" stroke="#444" stroke-width="0.85"/>
<text x="399.8" y="253.44" font-family="Liberation Sans" font-size="5.1" font-weight="bold" text-anchor="end" fill="#1c1c1c" stroke="#1c1c1c" stroke-width="0.22">0</text>
<line x1="400.4" y1="265.3" x2="403" y2="265.3" stroke="#444" stroke-width="0.85"/>
<text x="399.8" y="267.14" font-family="Liberation Sans" font-size="5.1" font-weight="bold" text-anchor="end" fill="#1c1c1c" stroke="#1c1c1c" stroke-width="0.22">-100</text>
<line x1="401.5" y1="173.4" x2="403" y2="173.4" stroke="#444" stroke-width="0.6"/>
<line x1="401.5" y1="203.65" x2="403" y2="203.65" stroke="#444" stroke-width="0.6"/>
<line x1="401.5" y1="217.35" x2="403" y2="217.35" stroke="#444" stroke-width="0.6"/>
<line x1="401.5" y1="231.05" x2="403" y2="231.05" stroke="#444" stroke-width="0.6"/>
<line x1="401.5" y1="244.75" x2="403" y2="244.75" stroke="#444" stroke-width="0.6"/>
<line x1="401.5" y1="258.45" x2="403" y2="258.45" stroke="#444" stroke-width="0.6"/>
<line x1="412.3" y1="271.7" x2="412.3" y2="274.1" stroke="#444" stroke-width="0.85"/>
<text x="412.3" y="279.7" font-family="Liberation Sans" font-size="5.1" font-weight="bold" text-anchor="middle" fill="#1c1c1c" stroke="#1c1c1c" stroke-width="0.22">2.0</text>
<line x1="433.92" y1="271.7" x2="433.92" y2="274.1" stroke="#444" stroke-width="0.85"/>
<text x="433.92" y="279.7" font-family="Liberation Sans" font-size="5.1" font-weight="bold" text-anchor="middle" fill="#1c1c1c" stroke="#1c1c1c" stroke-width="0.22">2.5</text>
<line x1="455.53" y1="271.7" x2="455.53" y2="274.1" stroke="#444" stroke-width="0.85"/>
<text x="455.53" y="279.7" font-family="Liberation Sans" font-size="5.1" font-weight="bold" text-anchor="middle" fill="#1c1c1c" stroke="#1c1c1c" stroke-width="0.22">3.0</text>
<line x1="477.14" y1="271.7" x2="477.14" y2="274.1" stroke="#444" stroke-width="0.85"/>
<text x="477.14" y="279.7" font-family="Liberation Sans" font-size="5.1" font-weight="bold" text-anchor="middle" fill="#1c1c1c" stroke="#1c1c1c" stroke-width="0.22">3.5</text>
<line x1="498.76" y1="271.7" x2="498.76" y2="274.1" stroke="#444" stroke-width="0.85"/>
<text x="498.76" y="279.7" font-family="Liberation Sans" font-size="5.1" font-weight="bold" text-anchor="middle" fill="#1c1c1c" stroke="#1c1c1c" stroke-width="0.22">4.0</text>
<line x1="520.38" y1="271.7" x2="520.38" y2="274.1" stroke="#444" stroke-width="0.85"/>
<text x="520.38" y="279.7" font-family="Liberation Sans" font-size="5.1" font-weight="bold" text-anchor="middle" fill="#1c1c1c" stroke="#1c1c1c" stroke-width="0.22">4.5</text>
<line x1="541.99" y1="271.7" x2="541.99" y2="274.1" stroke="#444" stroke-width="0.85"/>
<text x="541.99" y="279.7" font-family="Liberation Sans" font-size="5.1" font-weight="bold" text-anchor="middle" fill="#1c1c1c" stroke="#1c1c1c" stroke-width="0.22">5.0</text>
<line x1="423.11" y1="271.7" x2="423.11" y2="273.1" stroke="#444" stroke-width="0.6"/>
<line x1="444.72" y1="271.7" x2="444.72" y2="273.1" stroke="#444" stroke-width="0.6"/>
<line x1="466.34" y1="271.7" x2="466.34" y2="273.1" stroke="#444" stroke-width="0.6"/>
<line x1="487.95" y1="271.7" x2="487.95" y2="273.1" stroke="#444" stroke-width="0.6"/>
<line x1="509.57" y1="271.7" x2="509.57" y2="273.1" stroke="#444" stroke-width="0.6"/>
<line x1="531.18" y1="271.7" x2="531.18" y2="273.1" stroke="#444" stroke-width="0.6"/>
<rect x="401.5" y="179.2" width="3" height="4.4" fill="#fff"/>
<line x1="401" y1="180.7" x2="405" y2="179" stroke="#555" stroke-width="0.6"/>
<line x1="401" y1="183.4" x2="405" y2="181.7" stroke="#555" stroke-width="0.6"/>
<rect x="540.8" y="179.2" width="3" height="4.4" fill="#fff"/>
<line x1="540.3" y1="180.7" x2="544.3" y2="179" stroke="#555" stroke-width="0.6"/>
<line x1="540.3" y1="183.4" x2="544.3" y2="181.7" stroke="#555" stroke-width="0.6"/>
<text x="0" y="0" transform="translate(380.6 219.9) rotate(-90)" font-family="Liberation Sans" font-size="6.55" font-weight="bold" text-anchor="middle" dominant-baseline="central" fill="#1c1c1c" stroke="#1c1c1c" stroke-width="0.22">Differential Capacity (mAh/gV)</text>
<text x="473" y="291.1" font-family="Liberation Sans" font-size="6.6" font-weight="bold" text-anchor="middle" fill="#1c1c1c" stroke="#1c1c1c" stroke-width="0.22">Voltage (V)</text>
<text x="460" y="308" font-family="Liberation Serif" font-size="10.1" text-anchor="middle" fill="#1e1e1e"><tspan font-weight="normal" stroke="#1e1e1e" stroke-width="0.2">(</tspan><tspan font-weight="bold" stroke="#1e1e1e" stroke-width="0.42">c2</tspan><tspan font-weight="normal" stroke="#1e1e1e" stroke-width="0.2">)</tspan></text>
<text x="421.3" y="172.9" font-family="Liberation Sans" font-size="5.0" font-weight="bold" text-anchor="middle" fill="#1c1c1c" stroke="#1c1c1c" stroke-width="0.22">x = 0.7</text>
<line x1="412" y1="199.5" x2="452.6" y2="199.5" stroke="#b0b0b0" stroke-width="0.6"/>
<line x1="413.7" y1="202.8" x2="426" y2="202.8" stroke="#e3262c" stroke-width="1.35"/>
<text x="428" y="204.58" font-family="Liberation Sans" font-size="4.95" font-weight="bold" text-anchor="start" fill="#1c1c1c" stroke="#1c1c1c" stroke-width="0.22">1 Cycle</text>
<line x1="413.7" y1="209.2" x2="426" y2="209.2" stroke="#f4b45c" stroke-width="1.35"/>
<text x="428" y="210.98" font-family="Liberation Sans" font-size="4.95" font-weight="bold" text-anchor="start" fill="#1c1c1c" stroke="#1c1c1c" stroke-width="0.22">5 Cycles</text>
<line x1="413.7" y1="216" x2="426" y2="216" stroke="#2a9234" stroke-width="1.35"/>
<text x="428" y="217.78" font-family="Liberation Sans" font-size="4.95" font-weight="bold" text-anchor="start" fill="#1c1c1c" stroke="#1c1c1c" stroke-width="0.22">10 Cycles</text>
<line x1="413.7" y1="222.4" x2="426" y2="222.4" stroke="#3035a6" stroke-width="1.35"/>
<text x="428" y="224.18" font-family="Liberation Sans" font-size="4.95" font-weight="bold" text-anchor="start" fill="#1c1c1c" stroke="#1c1c1c" stroke-width="0.22">40 Cycles</text>
<text x="490" y="218.3" font-family="Liberation Sans" font-size="5.0" font-weight="bold" text-anchor="start" fill="#1c1c1c" stroke="#1c1c1c" stroke-width="0.22">4.49 V</text>
<line x1="505" y1="218.2" x2="519.01" y2="222.96" stroke="#3035a6" stroke-width="0.6"/>
<polygon points="520.9,223.6 518.72,223.81 519.3,222.1" fill="#3035a6"/>
<text x="472.3" y="234.6" font-family="Liberation Sans" font-size="5.0" font-weight="bold" text-anchor="start" fill="#1c1c1c" stroke="#1c1c1c" stroke-width="0.22">3.96 V</text>
<line x1="487.2" y1="235" x2="494.04" y2="239.59" stroke="#3035a6" stroke-width="0.6"/>
<polygon points="495.7,240.7 493.54,240.33 494.54,238.84" fill="#3035a6"/>
<text x="422.9" y="268.9" font-family="Liberation Sans" font-size="5.0" font-weight="bold" text-anchor="start" fill="#1c1c1c" stroke="#1c1c1c" stroke-width="0.22">3.11 V</text>
<line x1="438" y1="267.2" x2="453.7" y2="267.2" stroke="#3035a6" stroke-width="0.6"/>
<polygon points="455.7,267.2 453.7,268.1 453.7,266.3" fill="#3035a6"/>
<text x="495" y="267.8" font-family="Liberation Sans" font-size="5.0" font-weight="bold" text-anchor="start" fill="#1c1c1c" stroke="#1c1c1c" stroke-width="0.22">3.83 - 3.75 V</text>
<line x1="518.6" y1="244" x2="508.65" y2="231.91" stroke="#222" stroke-width="0.7"/>
<polygon points="507,229.9 509.56,231.16 507.75,232.65" fill="#222"/>
<line x1="453.4" y1="254.3" x2="460.58" y2="262.45" stroke="#222" stroke-width="0.7"/>
<polygon points="462.3,264.4 459.7,263.22 461.46,261.68" fill="#222"/>
<text x="532.9" y="178.2" font-family="Liberation Sans" font-size="5" font-weight="bold" text-anchor="middle" fill="#1c1c1c" stroke="#1c1c1c" stroke-width="0.22">*</text>
</svg>
</body></html>
